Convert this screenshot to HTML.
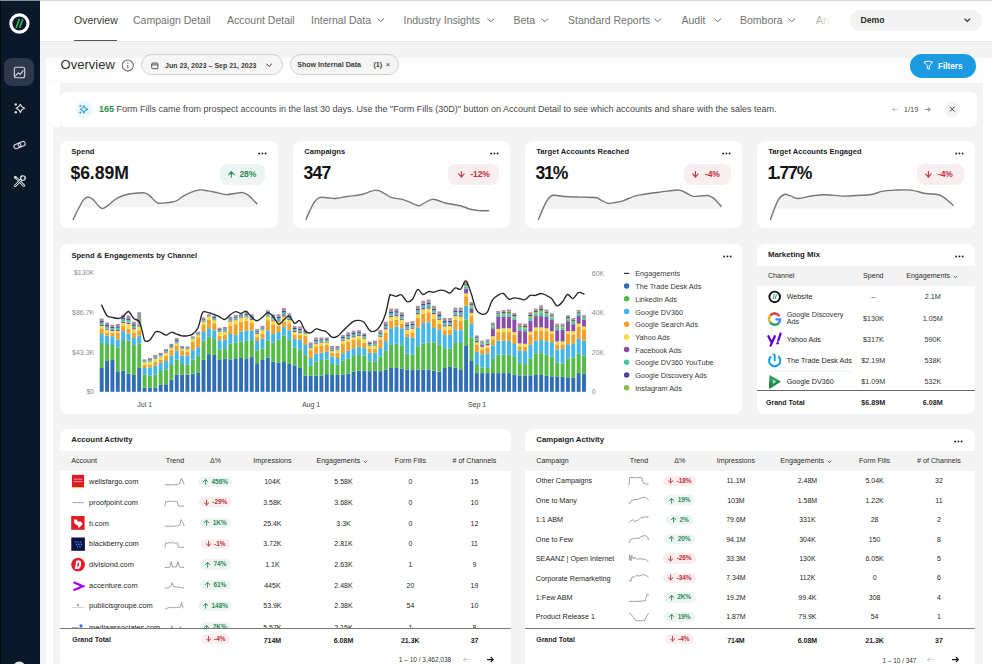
<!DOCTYPE html><html><head><meta charset="utf-8"><style>
*{box-sizing:border-box}
html,body{margin:0;padding:0}
body{width:992px;height:664px;overflow:hidden;position:relative;background:#f3f3f3;font-family:"Liberation Sans", sans-serif;}
.t{position:absolute;white-space:nowrap}
.r{position:absolute}
svg{position:absolute;overflow:visible}

</style></head><body>
<div class="r" style="left:40px;top:41px;width:952px;height:623px;background:#ffffff;border-radius:0px;"></div>
<div class="r" style="left:46px;top:41px;width:946px;height:17px;background:#f3f3f3;border-radius:0px;"></div>
<div class="r" style="left:53px;top:58px;width:930px;height:606px;background:#f3f3f3;border-radius:0px;"></div>
<div class="r" style="left:40px;top:41px;width:6px;height:623px;background:#eef4f7;border-radius:0px;"></div>
<div class="r" style="left:46px;top:58px;width:937px;height:25px;background:#fdfdfd;border-radius:0px;"></div>
<div class="r" style="left:46px;top:83px;width:14px;height:44px;background:#ffffff;border-radius:0px;"></div>
<div class="r" style="left:40px;top:0px;width:952px;height:41px;background:#ffffff;border-radius:0px;"></div>
<div class="r" style="left:0px;top:0px;width:992px;height:1px;background:#d6d6d6;border-radius:0px;"></div>
<div class="r" style="left:40px;top:40.5px;width:952px;height:0.5px;background:#e6e6e6;border-radius:0px;"></div>
<div class="r" style="left:0px;top:0px;width:40px;height:664px;background:#0a182a;border-radius:0px;"></div>
<div class="r" style="left:0px;top:0px;width:1px;height:664px;background:#03080e;border-radius:0px;"></div>
<div class="r" style="left:0px;top:0px;width:40px;height:1px;background:#8a9098;border-radius:0px;"></div>
<svg style="left:0;top:0" width="40" height="60" viewBox="0 0 40 60">
<circle cx="19.4" cy="23.5" r="8.6" fill="#0a182a" stroke="#ffffff" stroke-width="3.1"/>
<path d="M19.2 19.6 L16.4 27.2 M22.6 19.6 L19.8 27.2" stroke="#2fae5a" stroke-width="1.7" stroke-linecap="round"/>
</svg>
<div class="r" style="left:4px;top:58px;width:30px;height:28px;background:#2d394a;border-radius:8px;"></div>
<svg style="left:0;top:50" width="40" height="150" viewBox="0 50 40 150" fill="none" stroke="#d3d8de" stroke-width="1.1" stroke-linecap="round" stroke-linejoin="round">
<rect x="14.3" y="67.3" width="10.4" height="10.4" rx="2"/>
<path d="M15.6 75.6 L18.3 72.8 L20.2 74.4 L23.2 70.6"/>
<path d="M20.3 104.2 Q21.2 107.4 24.6 108.3 Q21.2 109.2 20.3 112.6 Q19.4 109.2 16 108.3 Q19.4 107.4 20.3 104.2 Z"/>
<circle cx="15.8" cy="104.6" r="1.25" fill="#d3d8de" stroke="none"/>
<circle cx="15.8" cy="112.2" r="1.25" fill="#d3d8de" stroke="none"/>
<g transform="rotate(-22 19.5 145)"><rect x="13.6" y="142.9" width="7.2" height="4.4" rx="2.2"/><rect x="18.2" y="142.9" width="7.2" height="4.4" rx="2.2"/></g>
<path d="M16.4 178.2 L23.9 185.7" stroke-width="2.6"/><path d="M16.4 178.2 L23.9 185.7" stroke="#0a182a" stroke-width="0.9"/><circle cx="15.4" cy="177.2" r="1.5" fill="#d3d8de" stroke="none"/><path d="M15.2 185.8 L21.6 179.4" stroke-width="2.6"/><path d="M15.2 185.8 L21.6 179.4" stroke="#0a182a" stroke-width="0.9"/><circle cx="22.9" cy="178.1" r="2.3" fill="#0a182a"/><path d="M21.2 179.8 A2.3 2.3 0 0 1 22.3 175.9 M24.6 176.4 A2.3 2.3 0 0 1 25.1 178.7"/>
</svg>
<svg style="left:0;top:650" width="40" height="14"><circle cx="19.3" cy="18" r="6.5" fill="#e8e8e8"/></svg>
<div class="t" style="top:14.68px;font-size:10.5px;line-height:10.5px;font-weight:400;color:#3a3a3a;left:74.00px;">Overview</div>
<div class="t" style="top:14.68px;font-size:10.5px;line-height:10.5px;font-weight:400;color:#727272;left:133.00px;">Campaign Detail</div>
<div class="t" style="top:14.68px;font-size:10.5px;line-height:10.5px;font-weight:400;color:#727272;left:227.00px;">Account Detail</div>
<div class="t" style="top:14.68px;font-size:10.5px;line-height:10.5px;font-weight:400;color:#727272;left:311.00px;">Internal Data</div>
<svg style="left:376.5px;top:17.6px" width="8" height="5" viewBox="0 0 8 5"><path d="M0.7 0.9 L3.75 3.7 L6.8 0.9" fill="none" stroke="#666" stroke-width="0.95" stroke-linecap="round" stroke-linejoin="round"/></svg>
<div class="t" style="top:14.68px;font-size:10.5px;line-height:10.5px;font-weight:400;color:#727272;left:403.50px;">Industry Insights</div>
<svg style="left:487.1px;top:17.6px" width="8" height="5" viewBox="0 0 8 5"><path d="M0.7 0.9 L3.75 3.7 L6.8 0.9" fill="none" stroke="#666" stroke-width="0.95" stroke-linecap="round" stroke-linejoin="round"/></svg>
<div class="t" style="top:14.68px;font-size:10.5px;line-height:10.5px;font-weight:400;color:#727272;left:513.50px;">Beta</div>
<svg style="left:541.3px;top:17.6px" width="8" height="5" viewBox="0 0 8 5"><path d="M0.7 0.9 L3.75 3.7 L6.8 0.9" fill="none" stroke="#666" stroke-width="0.95" stroke-linecap="round" stroke-linejoin="round"/></svg>
<div class="t" style="top:14.68px;font-size:10.5px;line-height:10.5px;font-weight:400;color:#727272;left:568.00px;">Standard Reports</div>
<svg style="left:654.4px;top:17.6px" width="8" height="5" viewBox="0 0 8 5"><path d="M0.7 0.9 L3.75 3.7 L6.8 0.9" fill="none" stroke="#666" stroke-width="0.95" stroke-linecap="round" stroke-linejoin="round"/></svg>
<div class="t" style="top:14.68px;font-size:10.5px;line-height:10.5px;font-weight:400;color:#727272;left:681.50px;">Audit</div>
<svg style="left:713.7px;top:17.6px" width="8" height="5" viewBox="0 0 8 5"><path d="M0.7 0.9 L3.75 3.7 L6.8 0.9" fill="none" stroke="#666" stroke-width="0.95" stroke-linecap="round" stroke-linejoin="round"/></svg>
<div class="t" style="top:14.68px;font-size:10.5px;line-height:10.5px;font-weight:400;color:#727272;left:740.00px;">Bombora</div>
<svg style="left:788.4px;top:17.6px" width="8" height="5" viewBox="0 0 8 5"><path d="M0.7 0.9 L3.75 3.7 L6.8 0.9" fill="none" stroke="#666" stroke-width="0.95" stroke-linecap="round" stroke-linejoin="round"/></svg>
<div class="t" style="top:14.68px;font-size:10.5px;line-height:10.5px;font-weight:400;color:#a8a8a8;left:816.00px;width:14px;overflow:hidden;">Arc</div>
<div class="r" style="left:818px;top:12px;width:14px;height:16px;background:linear-gradient(to right, rgba(255,255,255,0), rgba(255,255,255,0.95) 90%)"></div>
<div class="r" style="left:74px;top:39.5px;width:43px;height:1.5px;background:#555;border-radius:0px;"></div>
<div class="r" style="left:850px;top:10px;width:132px;height:20.5px;background:#f3f3f3;border-radius:10.25px;"></div>
<div class="t" style="top:15.86px;font-size:8.7px;line-height:8.7px;font-weight:700;color:#2a2a2a;left:860.40px;">Demo</div>
<svg style="left:963.5px;top:18px" width="7" height="5" viewBox="0 0 7 5"><path d="M0.8 1 L3.3 3.5 L5.8 1" fill="none" stroke="#333" stroke-width="1.1" stroke-linecap="round"/></svg>
<div class="t" style="top:57.55px;font-size:13px;line-height:13px;font-weight:400;color:#2e2e2e;left:60.60px;">Overview</div>
<svg style="left:121px;top:59px" width="14" height="14" viewBox="0 0 14 14"><circle cx="6.8" cy="6.5" r="5.6" fill="none" stroke="#666" stroke-width="1.05"/><path d="M6.8 6.1 L6.8 9.3" stroke="#666" stroke-width="1.1"/><circle cx="6.8" cy="4.1" r="0.7" fill="#666"/></svg>
<div class="r" style="left:141px;top:54px;width:142px;height:21px;background:#f5f5f5;border-radius:10.5px;border:1px solid #cfcfcf;"></div>
<svg style="left:150.6px;top:61.6px" width="8" height="8" viewBox="0 0 8 8"><rect x="0.7" y="1.1" width="6.2" height="5.6" rx="0.9" fill="none" stroke="#333" stroke-width="0.85"/><path d="M0.8 2.9 L6.8 2.9" stroke="#333" stroke-width="0.8"/></svg>
<div class="t" style="top:61.83px;font-size:7.0px;line-height:7.0px;font-weight:700;color:#3a3a3a;left:165.00px;">Jun 23, 2023 – Sep 21, 2023</div>
<svg style="left:265.5px;top:63px" width="7" height="5" viewBox="0 0 7 5"><path d="M0.8 1 L3.2 3.4 L5.6 1" fill="none" stroke="#333" stroke-width="1" stroke-linecap="round"/></svg>
<div class="r" style="left:289.7px;top:54px;width:109.5px;height:21px;background:#f5f5f5;border-radius:10.5px;border:1px solid #cfcfcf;"></div>
<div class="t" style="top:61.78px;font-size:7.1px;line-height:7.1px;font-weight:700;color:#3a3a3a;left:297.20px;">Show Internal Data</div>
<div class="t" style="top:61.78px;font-size:7.1px;line-height:7.1px;font-weight:700;color:#3a3a3a;left:373.40px;">(1)</div>
<div class="t" style="top:61.12px;font-size:8px;line-height:8px;font-weight:400;color:#333;left:385.60px;">×</div>
<div class="r" style="left:910px;top:54px;width:66px;height:23.5px;background:#1c9be3;border-radius:11.75px;"></div>
<svg style="left:923px;top:60px" width="11" height="11" viewBox="0 0 11 11"><path d="M1.1 2 Q5.3 0.3 9.5 2 Q8 4.4 6.2 5.8 L6.2 9.4 L4.4 8.5 L4.4 5.8 Q2.6 4.4 1.1 2 Z" fill="none" stroke="#fff" stroke-width="0.95" stroke-linejoin="round"/></svg>
<div class="t" style="top:62.72px;font-size:8.2px;line-height:8.2px;font-weight:700;color:#ffffff;left:938.00px;">Filters</div>
<div class="r" style="left:60px;top:92px;width:917px;height:34.5px;background:#ffffff;border-radius:6px;"></div>
<svg style="left:75px;top:100.5px" width="18" height="18" viewBox="0 0 18 18"><circle cx="9" cy="8.7" r="8.7" fill="#edf6fa"/><path d="M8.8 4.6 Q9.5 7.6 12.8 8.3 Q9.5 9 8.8 12 Q8.1 9 5.5 8.3 Q8.1 7.6 8.8 4.6 Z" fill="none" stroke="#35a2dc" stroke-width="1.25" stroke-linejoin="round"/><circle cx="5.3" cy="4.9" r="1" fill="#3a8fd8"/><circle cx="5.3" cy="11.5" r="1" fill="#3a8fd8"/></svg>
<div class="t" style="top:104.55px;font-size:9px;line-height:9px;font-weight:400;color:#474747;left:98.90px;"><b style="color:#2b8c4e">165</b> Form Fills came from prospect accounts in the last 30 days. Use the "Form Fills (30D)" button on Account Detail to see which accounts and share with the sales team.</div>
<svg style="left:892.00px;top:106.90px" width="5.60" height="4.80" viewBox="0 0 5.60 4.80"><path d="M5.100000000000023 2.4 L0.5 2.4 M2.4 0.5 L0.5 2.4 L2.4 4.3" fill="none" stroke="#b0b0b0" stroke-width="0.8" stroke-linecap="round" stroke-linejoin="round"/></svg>
<div class="t" style="top:105.92px;font-size:7.6px;line-height:7.6px;font-weight:400;color:#505050;left:903.70px;">1/19</div>
<svg style="left:925.10px;top:106.90px" width="5.70" height="4.80" viewBox="0 0 5.70 4.80"><path d="M0.5 2.4 L5.199999999999932 2.4 M3.299999999999932 0.5 L5.199999999999932 2.4 L3.299999999999932 4.3" fill="none" stroke="#666" stroke-width="0.8" stroke-linecap="round" stroke-linejoin="round"/></svg>
<svg style="left:944px;top:101px" width="17" height="17" viewBox="0 0 17 17"><circle cx="8.2" cy="8.3" r="8" fill="#f3f3f3"/><path d="M6.2 6.3 L10.2 10.3 M10.2 6.3 L6.2 10.3" stroke="#3a3a3a" stroke-width="0.95" stroke-linecap="round"/></svg>
<div class="r" style="left:60px;top:141px;width:218px;height:87px;background:#ffffff;border-radius:8px;"></div>
<div class="t" style="top:148.34px;font-size:7.6px;line-height:7.6px;font-weight:700;color:#1e1e1e;left:71.30px;">Spend</div>
<svg style="left:258.00px;top:152.00px" width="9" height="3" viewBox="0 0 9 3"><circle cx="1.2" cy="1.5" r="0.95" fill="#222"/><circle cx="4.4" cy="1.5" r="0.95" fill="#222"/><circle cx="7.6" cy="1.5" r="0.95" fill="#222"/></svg>
<div class="t" style="top:164.74px;font-size:17.6px;line-height:17.6px;font-weight:700;color:#141414;letter-spacing:-0.05px;left:70.40px;">$6.89M</div>
<div class="r" style="left:219.7px;top:163.5px;width:45.0px;height:21px;background:#eef4f3;border-radius:8px;"></div>
<svg style="left:228.10px;top:170.50px" width="6.80" height="6.80" viewBox="0 0 6.80 6.80"><path d="M3.40 6.30 L3.40 0.6 M0.60 3.86 L3.40 0.6 L6.20 3.86" fill="none" stroke="#2a8d55" stroke-width="1.05" stroke-linecap="round" stroke-linejoin="round"/></svg>
<div class="t" style="top:170.08px;font-size:8.5px;line-height:8.5px;font-weight:700;color:#2a8d55;letter-spacing:-0.15px;left:239.50px;">28%</div>
<svg style="left:0;top:0" width="992" height="664" viewBox="0 0 992 664"><defs><linearGradient id="g0" x1="0" y1="0" x2="0" y2="1"><stop offset="0" stop-color="#f1f1f1"/><stop offset="1" stop-color="#f4f4f4"/></linearGradient></defs><path d="M73.20,219.40 C74.17,217.47 77.35,210.97 79.00,207.80 C80.65,204.63 81.65,202.20 83.10,200.40 C84.55,198.60 86.05,197.15 87.70,197.00 C89.35,196.85 91.28,198.12 93.00,199.50 C94.72,200.88 96.47,203.78 98.00,205.30 C99.53,206.82 100.68,208.45 102.20,208.60 C103.72,208.75 105.32,207.43 107.10,206.20 C108.88,204.97 110.83,202.73 112.90,201.20 C114.97,199.67 117.02,198.17 119.50,197.00 C121.98,195.83 125.03,194.83 127.80,194.20 C130.57,193.57 133.33,193.42 136.10,193.20 C138.87,192.98 142.20,192.53 144.40,192.90 C146.60,193.27 147.37,193.88 149.30,195.40 C151.23,196.92 154.33,200.70 156.00,202.00 C157.67,203.30 157.65,203.07 159.30,203.20 C160.95,203.33 163.78,203.00 165.90,202.80 C168.02,202.60 170.15,202.38 172.00,202.00 C173.85,201.62 175.13,201.47 177.00,200.50 C178.87,199.53 180.78,197.60 183.20,196.20 C185.62,194.80 188.73,193.15 191.50,192.10 C194.27,191.05 197.03,190.10 199.80,189.90 C202.57,189.70 205.07,190.40 208.10,190.90 C211.13,191.40 214.97,192.28 218.00,192.90 C221.03,193.52 223.27,194.55 226.30,194.60 C229.33,194.65 233.45,193.53 236.20,193.20 C238.95,192.87 240.87,192.32 242.80,192.60 C244.73,192.88 246.13,193.75 247.80,194.90 C249.47,196.05 251.28,198.03 252.80,199.50 C254.32,200.97 256.22,203.00 256.90,203.70 L256.9,207.2 L73.2,207.2 Z" fill="url(#g0)" stroke="none"/><path d="M73.20,219.40 C74.17,217.47 77.35,210.97 79.00,207.80 C80.65,204.63 81.65,202.20 83.10,200.40 C84.55,198.60 86.05,197.15 87.70,197.00 C89.35,196.85 91.28,198.12 93.00,199.50 C94.72,200.88 96.47,203.78 98.00,205.30 C99.53,206.82 100.68,208.45 102.20,208.60 C103.72,208.75 105.32,207.43 107.10,206.20 C108.88,204.97 110.83,202.73 112.90,201.20 C114.97,199.67 117.02,198.17 119.50,197.00 C121.98,195.83 125.03,194.83 127.80,194.20 C130.57,193.57 133.33,193.42 136.10,193.20 C138.87,192.98 142.20,192.53 144.40,192.90 C146.60,193.27 147.37,193.88 149.30,195.40 C151.23,196.92 154.33,200.70 156.00,202.00 C157.67,203.30 157.65,203.07 159.30,203.20 C160.95,203.33 163.78,203.00 165.90,202.80 C168.02,202.60 170.15,202.38 172.00,202.00 C173.85,201.62 175.13,201.47 177.00,200.50 C178.87,199.53 180.78,197.60 183.20,196.20 C185.62,194.80 188.73,193.15 191.50,192.10 C194.27,191.05 197.03,190.10 199.80,189.90 C202.57,189.70 205.07,190.40 208.10,190.90 C211.13,191.40 214.97,192.28 218.00,192.90 C221.03,193.52 223.27,194.55 226.30,194.60 C229.33,194.65 233.45,193.53 236.20,193.20 C238.95,192.87 240.87,192.32 242.80,192.60 C244.73,192.88 246.13,193.75 247.80,194.90 C249.47,196.05 251.28,198.03 252.80,199.50 C254.32,200.97 256.22,203.00 256.90,203.70" fill="none" stroke="#767676" stroke-width="1.4" stroke-linecap="round" stroke-linejoin="round"/></svg>
<div class="r" style="left:293px;top:141px;width:217px;height:87px;background:#ffffff;border-radius:8px;"></div>
<div class="t" style="top:148.34px;font-size:7.6px;line-height:7.6px;font-weight:700;color:#1e1e1e;left:304.30px;">Campaigns</div>
<svg style="left:490.00px;top:152.00px" width="9" height="3" viewBox="0 0 9 3"><circle cx="1.2" cy="1.5" r="0.95" fill="#222"/><circle cx="4.4" cy="1.5" r="0.95" fill="#222"/><circle cx="7.6" cy="1.5" r="0.95" fill="#222"/></svg>
<div class="t" style="top:164.74px;font-size:17.6px;line-height:17.6px;font-weight:700;color:#141414;letter-spacing:-0.75px;left:303.40px;">347</div>
<div class="r" style="left:448.4px;top:163.5px;width:51.0px;height:21px;background:#f9eeef;border-radius:8px;"></div>
<svg style="left:457.80px;top:170.50px" width="6.80" height="6.80" viewBox="0 0 6.80 6.80"><path d="M3.40 0.5 L3.40 6.20 M0.60 2.94 L3.40 6.20 L6.20 2.94" fill="none" stroke="#c22f3e" stroke-width="1.05" stroke-linecap="round" stroke-linejoin="round"/></svg>
<div class="t" style="top:170.08px;font-size:8.5px;line-height:8.5px;font-weight:700;color:#c22f3e;letter-spacing:-0.15px;left:470.40px;">-12%</div>
<svg style="left:0;top:0" width="992" height="664" viewBox="0 0 992 664"><defs><linearGradient id="g1" x1="0" y1="0" x2="0" y2="1"><stop offset="0" stop-color="#f1f1f1"/><stop offset="1" stop-color="#f4f4f4"/></linearGradient></defs><path d="M306.10,219.30 C307.27,216.78 310.92,207.80 313.10,204.20 C315.28,200.60 316.83,198.78 319.20,197.70 C321.57,196.62 324.62,197.57 327.30,197.70 C329.98,197.83 331.95,198.70 335.30,198.50 C338.65,198.30 343.03,197.17 347.40,196.50 C351.77,195.83 356.80,195.57 361.50,194.50 C366.20,193.43 371.90,190.33 375.60,190.10 C379.30,189.87 381.00,191.83 383.70,193.10 C386.40,194.37 388.43,196.58 391.80,197.70 C395.17,198.82 399.53,198.48 403.90,199.80 C408.27,201.12 414.65,205.03 418.00,205.60 C421.35,206.17 421.48,204.27 424.00,203.20 C426.52,202.13 429.40,199.20 433.10,199.20 C436.80,199.20 441.67,202.10 446.20,203.20 C450.73,204.30 456.27,204.80 460.30,205.80 C464.33,206.80 467.37,208.40 470.40,209.20 C473.43,210.00 475.48,210.33 478.50,210.60 C481.52,210.87 486.83,210.77 488.50,210.80 L488.5,209.2 L306.1,209.2 Z" fill="url(#g1)" stroke="none"/><path d="M306.10,219.30 C307.27,216.78 310.92,207.80 313.10,204.20 C315.28,200.60 316.83,198.78 319.20,197.70 C321.57,196.62 324.62,197.57 327.30,197.70 C329.98,197.83 331.95,198.70 335.30,198.50 C338.65,198.30 343.03,197.17 347.40,196.50 C351.77,195.83 356.80,195.57 361.50,194.50 C366.20,193.43 371.90,190.33 375.60,190.10 C379.30,189.87 381.00,191.83 383.70,193.10 C386.40,194.37 388.43,196.58 391.80,197.70 C395.17,198.82 399.53,198.48 403.90,199.80 C408.27,201.12 414.65,205.03 418.00,205.60 C421.35,206.17 421.48,204.27 424.00,203.20 C426.52,202.13 429.40,199.20 433.10,199.20 C436.80,199.20 441.67,202.10 446.20,203.20 C450.73,204.30 456.27,204.80 460.30,205.80 C464.33,206.80 467.37,208.40 470.40,209.20 C473.43,210.00 475.48,210.33 478.50,210.60 C481.52,210.87 486.83,210.77 488.50,210.80" fill="none" stroke="#767676" stroke-width="1.4" stroke-linecap="round" stroke-linejoin="round"/></svg>
<div class="r" style="left:525px;top:141px;width:217px;height:87px;background:#ffffff;border-radius:8px;"></div>
<div class="t" style="top:148.34px;font-size:7.6px;line-height:7.6px;font-weight:700;color:#1e1e1e;left:536.30px;">Target Accounts Reached</div>
<svg style="left:722.00px;top:152.00px" width="9" height="3" viewBox="0 0 9 3"><circle cx="1.2" cy="1.5" r="0.95" fill="#222"/><circle cx="4.4" cy="1.5" r="0.95" fill="#222"/><circle cx="7.6" cy="1.5" r="0.95" fill="#222"/></svg>
<div class="t" style="top:164.74px;font-size:17.6px;line-height:17.6px;font-weight:700;color:#141414;letter-spacing:-1.1px;left:535.40px;">31%</div>
<div class="r" style="left:684px;top:163.5px;width:47px;height:21px;background:#f9eeef;border-radius:8px;"></div>
<svg style="left:692.20px;top:170.50px" width="6.80" height="6.80" viewBox="0 0 6.80 6.80"><path d="M3.40 0.5 L3.40 6.20 M0.60 2.94 L3.40 6.20 L6.20 2.94" fill="none" stroke="#c22f3e" stroke-width="1.05" stroke-linecap="round" stroke-linejoin="round"/></svg>
<div class="t" style="top:170.08px;font-size:8.5px;line-height:8.5px;font-weight:700;color:#c22f3e;letter-spacing:-0.15px;left:705.00px;">-4%</div>
<svg style="left:0;top:0" width="992" height="664" viewBox="0 0 992 664"><defs><linearGradient id="g2" x1="0" y1="0" x2="0" y2="1"><stop offset="0" stop-color="#f1f1f1"/><stop offset="1" stop-color="#f4f4f4"/></linearGradient></defs><path d="M538.50,219.30 C539.77,216.45 543.82,206.17 546.10,202.20 C548.38,198.23 549.17,196.45 552.20,195.50 C555.23,194.55 559.60,196.23 564.30,196.50 C569.00,196.77 575.20,196.93 580.40,197.10 C585.60,197.27 592.13,197.05 595.50,197.50 C598.87,197.95 598.58,198.85 600.60,199.80 C602.62,200.75 605.25,202.73 607.60,203.20 C609.95,203.67 612.18,203.00 614.70,202.60 C617.22,202.20 619.35,201.88 622.70,200.80 C626.05,199.72 631.43,197.15 634.80,196.10 C638.17,195.05 639.53,195.07 642.90,194.50 C646.27,193.93 650.97,193.27 655.00,192.70 C659.03,192.13 663.07,191.53 667.10,191.10 C671.13,190.67 676.18,189.87 679.20,190.10 C682.22,190.33 683.02,191.50 685.20,192.50 C687.38,193.50 689.93,195.50 692.30,196.10 C694.67,196.70 696.88,196.20 699.40,196.10 C701.92,196.00 705.05,195.17 707.40,195.50 C709.75,195.83 711.22,196.32 713.50,198.10 C715.78,199.88 719.83,204.85 721.10,206.20 L721.1,209.0 L538.5,209.0 Z" fill="url(#g2)" stroke="none"/><path d="M538.50,219.30 C539.77,216.45 543.82,206.17 546.10,202.20 C548.38,198.23 549.17,196.45 552.20,195.50 C555.23,194.55 559.60,196.23 564.30,196.50 C569.00,196.77 575.20,196.93 580.40,197.10 C585.60,197.27 592.13,197.05 595.50,197.50 C598.87,197.95 598.58,198.85 600.60,199.80 C602.62,200.75 605.25,202.73 607.60,203.20 C609.95,203.67 612.18,203.00 614.70,202.60 C617.22,202.20 619.35,201.88 622.70,200.80 C626.05,199.72 631.43,197.15 634.80,196.10 C638.17,195.05 639.53,195.07 642.90,194.50 C646.27,193.93 650.97,193.27 655.00,192.70 C659.03,192.13 663.07,191.53 667.10,191.10 C671.13,190.67 676.18,189.87 679.20,190.10 C682.22,190.33 683.02,191.50 685.20,192.50 C687.38,193.50 689.93,195.50 692.30,196.10 C694.67,196.70 696.88,196.20 699.40,196.10 C701.92,196.00 705.05,195.17 707.40,195.50 C709.75,195.83 711.22,196.32 713.50,198.10 C715.78,199.88 719.83,204.85 721.10,206.20" fill="none" stroke="#767676" stroke-width="1.4" stroke-linecap="round" stroke-linejoin="round"/></svg>
<div class="r" style="left:757px;top:141px;width:218px;height:87px;background:#ffffff;border-radius:8px;"></div>
<div class="t" style="top:148.34px;font-size:7.6px;line-height:7.6px;font-weight:700;color:#1e1e1e;left:768.30px;">Target Accounts Engaged</div>
<svg style="left:955.00px;top:152.00px" width="9" height="3" viewBox="0 0 9 3"><circle cx="1.2" cy="1.5" r="0.95" fill="#222"/><circle cx="4.4" cy="1.5" r="0.95" fill="#222"/><circle cx="7.6" cy="1.5" r="0.95" fill="#222"/></svg>
<div class="t" style="top:164.74px;font-size:17.6px;line-height:17.6px;font-weight:700;color:#141414;letter-spacing:-1.25px;left:767.40px;">1.77%</div>
<div class="r" style="left:917.1px;top:163.5px;width:46.69999999999993px;height:21px;background:#f9eeef;border-radius:8px;"></div>
<svg style="left:925.30px;top:170.50px" width="6.80" height="6.80" viewBox="0 0 6.80 6.80"><path d="M3.40 0.5 L3.40 6.20 M0.60 2.94 L3.40 6.20 L6.20 2.94" fill="none" stroke="#c22f3e" stroke-width="1.05" stroke-linecap="round" stroke-linejoin="round"/></svg>
<div class="t" style="top:170.08px;font-size:8.5px;line-height:8.5px;font-weight:700;color:#c22f3e;letter-spacing:-0.15px;left:938.10px;">-4%</div>
<svg style="left:0;top:0" width="992" height="664" viewBox="0 0 992 664"><defs><linearGradient id="g3" x1="0" y1="0" x2="0" y2="1"><stop offset="0" stop-color="#f1f1f1"/><stop offset="1" stop-color="#f4f4f4"/></linearGradient></defs><path d="M770.50,219.30 C771.77,216.12 775.82,204.33 778.10,200.20 C780.38,196.07 782.18,195.25 784.20,194.50 C786.22,193.75 787.85,195.03 790.20,195.70 C792.55,196.37 794.60,198.50 798.30,198.50 C802.00,198.50 807.70,196.33 812.40,195.70 C817.10,195.07 821.47,194.63 826.50,194.70 C831.53,194.77 837.55,195.97 842.60,196.10 C847.65,196.23 852.08,195.77 856.80,195.50 C861.52,195.23 866.53,195.23 870.90,194.50 C875.27,193.77 878.97,191.83 883.00,191.10 C887.03,190.37 890.40,190.27 895.10,190.10 C899.80,189.93 906.17,189.53 911.20,190.10 C916.23,190.67 920.93,192.77 925.30,193.50 C929.67,194.23 934.37,193.90 937.40,194.50 C940.43,195.10 940.88,195.32 943.50,197.10 C946.12,198.88 951.50,203.85 953.10,205.20 L953.1,208.4 L770.5,208.4 Z" fill="url(#g3)" stroke="none"/><path d="M770.50,219.30 C771.77,216.12 775.82,204.33 778.10,200.20 C780.38,196.07 782.18,195.25 784.20,194.50 C786.22,193.75 787.85,195.03 790.20,195.70 C792.55,196.37 794.60,198.50 798.30,198.50 C802.00,198.50 807.70,196.33 812.40,195.70 C817.10,195.07 821.47,194.63 826.50,194.70 C831.53,194.77 837.55,195.97 842.60,196.10 C847.65,196.23 852.08,195.77 856.80,195.50 C861.52,195.23 866.53,195.23 870.90,194.50 C875.27,193.77 878.97,191.83 883.00,191.10 C887.03,190.37 890.40,190.27 895.10,190.10 C899.80,189.93 906.17,189.53 911.20,190.10 C916.23,190.67 920.93,192.77 925.30,193.50 C929.67,194.23 934.37,193.90 937.40,194.50 C940.43,195.10 940.88,195.32 943.50,197.10 C946.12,198.88 951.50,203.85 953.10,205.20" fill="none" stroke="#767676" stroke-width="1.4" stroke-linecap="round" stroke-linejoin="round"/></svg>
<div class="r" style="left:60px;top:243.5px;width:682px;height:170px;background:#ffffff;border-radius:8px;"></div>
<div class="t" style="top:251.64px;font-size:7.6px;line-height:7.6px;font-weight:700;color:#1e1e1e;left:71.40px;">Spend &amp; Engagements by Channel</div>
<svg style="left:722.50px;top:254.80px" width="9" height="3" viewBox="0 0 9 3"><circle cx="1.2" cy="1.5" r="0.95" fill="#222"/><circle cx="4.4" cy="1.5" r="0.95" fill="#222"/><circle cx="7.6" cy="1.5" r="0.95" fill="#222"/></svg>
<div class="t" style="top:269.43px;font-size:7.0px;line-height:7.0px;font-weight:400;color:#8a8a8a;left:-305.80px;width:400px;text-align:right;">$130K</div>
<div class="t" style="top:309.23px;font-size:7.0px;line-height:7.0px;font-weight:400;color:#8a8a8a;left:-305.80px;width:400px;text-align:right;">$86.7K</div>
<div class="t" style="top:348.83px;font-size:7.0px;line-height:7.0px;font-weight:400;color:#8a8a8a;left:-305.80px;width:400px;text-align:right;">$43.3K</div>
<div class="t" style="top:388.23px;font-size:7.0px;line-height:7.0px;font-weight:400;color:#8a8a8a;left:-305.80px;width:400px;text-align:right;">$0</div>
<div class="t" style="top:269.83px;font-size:7.0px;line-height:7.0px;font-weight:400;color:#8a8a8a;left:591.80px;">60K</div>
<div class="t" style="top:309.43px;font-size:7.0px;line-height:7.0px;font-weight:400;color:#8a8a8a;left:591.80px;">40K</div>
<div class="t" style="top:349.23px;font-size:7.0px;line-height:7.0px;font-weight:400;color:#8a8a8a;left:591.80px;">20K</div>
<div class="t" style="top:388.33px;font-size:7.0px;line-height:7.0px;font-weight:400;color:#8a8a8a;left:591.80px;">0</div>
<div class="t" style="top:400.73px;font-size:7.0px;line-height:7.0px;font-weight:400;color:#444;left:-55.30px;width:400px;text-align:center;">Jul 1</div>
<div class="t" style="top:400.73px;font-size:7.0px;line-height:7.0px;font-weight:400;color:#444;left:111.10px;width:400px;text-align:center;">Aug 1</div>
<div class="t" style="top:400.73px;font-size:7.0px;line-height:7.0px;font-weight:400;color:#444;left:277.10px;width:400px;text-align:center;">Sep 1</div>
<svg style="left:0;top:0" width="992" height="664" viewBox="0 0 992 664" shape-rendering="auto"><rect x="99.75" y="368.00" width="3.9" height="23.80" fill="#2f6db5"/><rect x="99.75" y="342.90" width="3.9" height="25.10" fill="#55bb47"/><rect x="99.75" y="334.00" width="3.9" height="8.90" fill="#43b7ec"/><rect x="99.75" y="329.00" width="3.9" height="5.00" fill="#f4a12a"/><rect x="99.75" y="326.00" width="3.9" height="3.00" fill="#f8db3e"/><rect x="99.75" y="324.80" width="3.9" height="1.20" fill="#8c4cab"/><rect x="99.75" y="322.55" width="3.9" height="2.25" fill="#4fc2a6"/><rect x="99.75" y="321.05" width="3.9" height="1.50" fill="#4a449c"/><rect x="99.75" y="318.50" width="3.9" height="2.55" fill="#a88f9c"/><rect x="105.11" y="361.00" width="3.9" height="30.80" fill="#2f6db5"/><rect x="105.11" y="344.00" width="3.9" height="17.00" fill="#55bb47"/><rect x="105.11" y="335.80" width="3.9" height="8.20" fill="#43b7ec"/><rect x="105.11" y="332.50" width="3.9" height="3.30" fill="#f4a12a"/><rect x="105.11" y="329.70" width="3.9" height="2.80" fill="#f8db3e"/><rect x="105.11" y="328.55" width="3.9" height="1.15" fill="#8c4cab"/><rect x="105.11" y="326.39" width="3.9" height="2.16" fill="#4fc2a6"/><rect x="105.11" y="324.95" width="3.9" height="1.44" fill="#4a449c"/><rect x="105.11" y="322.50" width="3.9" height="2.45" fill="#a88f9c"/><rect x="110.47" y="360.00" width="3.9" height="31.80" fill="#2f6db5"/><rect x="110.47" y="345.00" width="3.9" height="15.00" fill="#55bb47"/><rect x="110.47" y="336.30" width="3.9" height="8.70" fill="#43b7ec"/><rect x="110.47" y="333.00" width="3.9" height="3.30" fill="#f4a12a"/><rect x="110.47" y="331.00" width="3.9" height="2.00" fill="#f8db3e"/><rect x="110.47" y="329.99" width="3.9" height="1.01" fill="#8c4cab"/><rect x="110.47" y="328.10" width="3.9" height="1.89" fill="#4fc2a6"/><rect x="110.47" y="326.84" width="3.9" height="1.26" fill="#4a449c"/><rect x="110.47" y="324.70" width="3.9" height="2.14" fill="#a88f9c"/><rect x="115.83" y="371.30" width="3.9" height="20.50" fill="#2f6db5"/><rect x="115.83" y="347.60" width="3.9" height="23.70" fill="#55bb47"/><rect x="115.83" y="339.40" width="3.9" height="8.20" fill="#43b7ec"/><rect x="115.83" y="332.90" width="3.9" height="6.50" fill="#f4a12a"/><rect x="115.83" y="331.00" width="3.9" height="1.90" fill="#f8db3e"/><rect x="115.83" y="329.88" width="3.9" height="1.12" fill="#8c4cab"/><rect x="115.83" y="327.78" width="3.9" height="2.10" fill="#4fc2a6"/><rect x="115.83" y="326.38" width="3.9" height="1.40" fill="#4a449c"/><rect x="115.83" y="324.00" width="3.9" height="2.38" fill="#a88f9c"/><rect x="121.19" y="370.60" width="3.9" height="21.20" fill="#2f6db5"/><rect x="121.19" y="340.00" width="3.9" height="30.60" fill="#55bb47"/><rect x="121.19" y="331.00" width="3.9" height="9.00" fill="#43b7ec"/><rect x="121.19" y="325.40" width="3.9" height="5.60" fill="#f4a12a"/><rect x="121.19" y="323.00" width="3.9" height="2.40" fill="#f8db3e"/><rect x="121.19" y="321.67" width="3.9" height="1.33" fill="#8c4cab"/><rect x="121.19" y="319.18" width="3.9" height="2.49" fill="#4fc2a6"/><rect x="121.19" y="317.52" width="3.9" height="1.66" fill="#4a449c"/><rect x="121.19" y="314.70" width="3.9" height="2.82" fill="#a88f9c"/><rect x="126.55" y="373.60" width="3.9" height="18.20" fill="#2f6db5"/><rect x="126.55" y="340.70" width="3.9" height="32.90" fill="#55bb47"/><rect x="126.55" y="333.70" width="3.9" height="7.00" fill="#43b7ec"/><rect x="126.55" y="328.50" width="3.9" height="5.20" fill="#f4a12a"/><rect x="126.55" y="324.00" width="3.9" height="4.50" fill="#f8db3e"/><rect x="126.55" y="322.64" width="3.9" height="1.36" fill="#8c4cab"/><rect x="126.55" y="320.09" width="3.9" height="2.55" fill="#4fc2a6"/><rect x="126.55" y="318.39" width="3.9" height="1.70" fill="#4a449c"/><rect x="126.55" y="315.50" width="3.9" height="2.89" fill="#a88f9c"/><rect x="131.90" y="375.00" width="3.9" height="16.80" fill="#2f6db5"/><rect x="131.90" y="345.00" width="3.9" height="30.00" fill="#55bb47"/><rect x="131.90" y="338.00" width="3.9" height="7.00" fill="#43b7ec"/><rect x="131.90" y="332.50" width="3.9" height="5.50" fill="#f4a12a"/><rect x="131.90" y="329.40" width="3.9" height="3.10" fill="#f8db3e"/><rect x="131.90" y="328.15" width="3.9" height="1.25" fill="#8c4cab"/><rect x="131.90" y="325.81" width="3.9" height="2.34" fill="#4fc2a6"/><rect x="131.90" y="324.25" width="3.9" height="1.56" fill="#4a449c"/><rect x="131.90" y="321.60" width="3.9" height="2.65" fill="#a88f9c"/><rect x="137.26" y="368.00" width="3.9" height="23.80" fill="#2f6db5"/><rect x="137.26" y="343.30" width="3.9" height="24.70" fill="#55bb47"/><rect x="137.26" y="335.50" width="3.9" height="7.80" fill="#43b7ec"/><rect x="137.26" y="330.30" width="3.9" height="5.20" fill="#f4a12a"/><rect x="137.26" y="326.80" width="3.9" height="3.50" fill="#f8db3e"/><rect x="137.26" y="326.24" width="3.9" height="0.56" fill="#8c4cab"/><rect x="137.26" y="325.19" width="3.9" height="1.05" fill="#4fc2a6"/><rect x="137.26" y="324.49" width="3.9" height="0.70" fill="#4a449c"/><rect x="137.26" y="323.30" width="3.9" height="1.19" fill="#a88f9c"/><rect x="142.62" y="387.80" width="3.9" height="4.00" fill="#2f6db5"/><rect x="142.62" y="374.50" width="3.9" height="13.30" fill="#55bb47"/><rect x="142.62" y="368.00" width="3.9" height="6.50" fill="#43b7ec"/><rect x="142.62" y="364.60" width="3.9" height="3.40" fill="#f4a12a"/><rect x="142.62" y="362.30" width="3.9" height="2.30" fill="#f8db3e"/><rect x="142.62" y="361.84" width="3.9" height="0.46" fill="#8c4cab"/><rect x="142.62" y="360.97" width="3.9" height="0.87" fill="#4fc2a6"/><rect x="142.62" y="360.39" width="3.9" height="0.58" fill="#4a449c"/><rect x="142.62" y="359.40" width="3.9" height="0.99" fill="#a88f9c"/><rect x="147.98" y="387.80" width="3.9" height="4.00" fill="#2f6db5"/><rect x="147.98" y="375.70" width="3.9" height="12.10" fill="#55bb47"/><rect x="147.98" y="367.50" width="3.9" height="8.20" fill="#43b7ec"/><rect x="147.98" y="364.60" width="3.9" height="2.90" fill="#f4a12a"/><rect x="147.98" y="361.50" width="3.9" height="3.10" fill="#f8db3e"/><rect x="147.98" y="360.94" width="3.9" height="0.56" fill="#8c4cab"/><rect x="147.98" y="359.89" width="3.9" height="1.05" fill="#4fc2a6"/><rect x="147.98" y="359.19" width="3.9" height="0.70" fill="#4a449c"/><rect x="147.98" y="358.00" width="3.9" height="1.19" fill="#a88f9c"/><rect x="153.34" y="387.50" width="3.9" height="4.30" fill="#2f6db5"/><rect x="153.34" y="374.50" width="3.9" height="13.00" fill="#55bb47"/><rect x="153.34" y="365.80" width="3.9" height="8.70" fill="#43b7ec"/><rect x="153.34" y="361.50" width="3.9" height="4.30" fill="#f4a12a"/><rect x="153.34" y="358.90" width="3.9" height="2.60" fill="#f8db3e"/><rect x="153.34" y="358.28" width="3.9" height="0.62" fill="#8c4cab"/><rect x="153.34" y="357.11" width="3.9" height="1.17" fill="#4fc2a6"/><rect x="153.34" y="356.33" width="3.9" height="0.78" fill="#4a449c"/><rect x="153.34" y="355.00" width="3.9" height="1.33" fill="#a88f9c"/><rect x="158.70" y="384.90" width="3.9" height="6.90" fill="#2f6db5"/><rect x="158.70" y="371.00" width="3.9" height="13.90" fill="#55bb47"/><rect x="158.70" y="362.80" width="3.9" height="8.20" fill="#43b7ec"/><rect x="158.70" y="359.40" width="3.9" height="3.40" fill="#f4a12a"/><rect x="158.70" y="356.30" width="3.9" height="3.10" fill="#f8db3e"/><rect x="158.70" y="355.74" width="3.9" height="0.56" fill="#8c4cab"/><rect x="158.70" y="354.69" width="3.9" height="1.05" fill="#4fc2a6"/><rect x="158.70" y="353.99" width="3.9" height="0.70" fill="#4a449c"/><rect x="158.70" y="352.80" width="3.9" height="1.19" fill="#a88f9c"/><rect x="164.06" y="384.30" width="3.9" height="7.50" fill="#2f6db5"/><rect x="164.06" y="369.30" width="3.9" height="15.00" fill="#55bb47"/><rect x="164.06" y="361.00" width="3.9" height="8.30" fill="#43b7ec"/><rect x="164.06" y="355.70" width="3.9" height="5.30" fill="#f4a12a"/><rect x="164.06" y="352.80" width="3.9" height="2.90" fill="#f8db3e"/><rect x="164.06" y="352.19" width="3.9" height="0.61" fill="#8c4cab"/><rect x="164.06" y="351.05" width="3.9" height="1.14" fill="#4fc2a6"/><rect x="164.06" y="350.29" width="3.9" height="0.76" fill="#4a449c"/><rect x="164.06" y="349.00" width="3.9" height="1.29" fill="#a88f9c"/><rect x="169.42" y="379.70" width="3.9" height="12.10" fill="#2f6db5"/><rect x="169.42" y="365.00" width="3.9" height="14.70" fill="#55bb47"/><rect x="169.42" y="355.70" width="3.9" height="9.30" fill="#43b7ec"/><rect x="169.42" y="350.20" width="3.9" height="5.50" fill="#f4a12a"/><rect x="169.42" y="347.60" width="3.9" height="2.60" fill="#f8db3e"/><rect x="169.42" y="346.99" width="3.9" height="0.61" fill="#8c4cab"/><rect x="169.42" y="345.85" width="3.9" height="1.14" fill="#4fc2a6"/><rect x="169.42" y="345.09" width="3.9" height="0.76" fill="#4a449c"/><rect x="169.42" y="343.80" width="3.9" height="1.29" fill="#a88f9c"/><rect x="174.78" y="374.50" width="3.9" height="17.30" fill="#2f6db5"/><rect x="174.78" y="359.40" width="3.9" height="15.10" fill="#55bb47"/><rect x="174.78" y="350.70" width="3.9" height="8.70" fill="#43b7ec"/><rect x="174.78" y="345.50" width="3.9" height="5.20" fill="#f4a12a"/><rect x="174.78" y="343.30" width="3.9" height="2.20" fill="#f8db3e"/><rect x="174.78" y="342.45" width="3.9" height="0.85" fill="#8c4cab"/><rect x="174.78" y="340.86" width="3.9" height="1.59" fill="#4fc2a6"/><rect x="174.78" y="339.80" width="3.9" height="1.06" fill="#4a449c"/><rect x="174.78" y="338.00" width="3.9" height="1.80" fill="#a88f9c"/><rect x="180.14" y="374.50" width="3.9" height="17.30" fill="#2f6db5"/><rect x="180.14" y="364.00" width="3.9" height="10.50" fill="#55bb47"/><rect x="180.14" y="355.70" width="3.9" height="8.30" fill="#43b7ec"/><rect x="180.14" y="351.00" width="3.9" height="4.70" fill="#f4a12a"/><rect x="180.14" y="349.00" width="3.9" height="2.00" fill="#f8db3e"/><rect x="180.14" y="348.50" width="3.9" height="0.50" fill="#8c4cab"/><rect x="180.14" y="347.57" width="3.9" height="0.93" fill="#4fc2a6"/><rect x="180.14" y="346.95" width="3.9" height="0.62" fill="#4a449c"/><rect x="180.14" y="345.90" width="3.9" height="1.05" fill="#a88f9c"/><rect x="185.49" y="374.50" width="3.9" height="17.30" fill="#2f6db5"/><rect x="185.49" y="364.60" width="3.9" height="9.90" fill="#55bb47"/><rect x="185.49" y="355.70" width="3.9" height="8.90" fill="#43b7ec"/><rect x="185.49" y="351.40" width="3.9" height="4.30" fill="#f4a12a"/><rect x="185.49" y="349.30" width="3.9" height="2.10" fill="#f8db3e"/><rect x="185.49" y="348.84" width="3.9" height="0.46" fill="#8c4cab"/><rect x="185.49" y="347.97" width="3.9" height="0.87" fill="#4fc2a6"/><rect x="185.49" y="347.39" width="3.9" height="0.58" fill="#4a449c"/><rect x="185.49" y="346.40" width="3.9" height="0.99" fill="#a88f9c"/><rect x="190.85" y="373.60" width="3.9" height="18.20" fill="#2f6db5"/><rect x="190.85" y="359.70" width="3.9" height="13.90" fill="#55bb47"/><rect x="190.85" y="350.20" width="3.9" height="9.50" fill="#43b7ec"/><rect x="190.85" y="341.50" width="3.9" height="8.70" fill="#f4a12a"/><rect x="190.85" y="338.90" width="3.9" height="2.60" fill="#f8db3e"/><rect x="190.85" y="338.48" width="3.9" height="0.42" fill="#8c4cab"/><rect x="190.85" y="337.70" width="3.9" height="0.78" fill="#4fc2a6"/><rect x="190.85" y="337.18" width="3.9" height="0.52" fill="#4a449c"/><rect x="190.85" y="336.30" width="3.9" height="0.88" fill="#a88f9c"/><rect x="196.21" y="372.70" width="3.9" height="19.10" fill="#2f6db5"/><rect x="196.21" y="355.90" width="3.9" height="16.80" fill="#55bb47"/><rect x="196.21" y="347.20" width="3.9" height="8.70" fill="#43b7ec"/><rect x="196.21" y="337.20" width="3.9" height="10.00" fill="#f4a12a"/><rect x="196.21" y="335.10" width="3.9" height="2.10" fill="#f8db3e"/><rect x="196.21" y="334.54" width="3.9" height="0.56" fill="#8c4cab"/><rect x="196.21" y="333.49" width="3.9" height="1.05" fill="#4fc2a6"/><rect x="196.21" y="332.79" width="3.9" height="0.70" fill="#4a449c"/><rect x="196.21" y="331.60" width="3.9" height="1.19" fill="#a88f9c"/><rect x="201.57" y="359.70" width="3.9" height="32.10" fill="#2f6db5"/><rect x="201.57" y="340.70" width="3.9" height="19.00" fill="#55bb47"/><rect x="201.57" y="332.00" width="3.9" height="8.70" fill="#43b7ec"/><rect x="201.57" y="325.00" width="3.9" height="7.00" fill="#f4a12a"/><rect x="201.57" y="321.60" width="3.9" height="3.40" fill="#f8db3e"/><rect x="201.57" y="320.91" width="3.9" height="0.69" fill="#8c4cab"/><rect x="201.57" y="319.62" width="3.9" height="1.29" fill="#4fc2a6"/><rect x="201.57" y="318.76" width="3.9" height="0.86" fill="#4a449c"/><rect x="201.57" y="317.30" width="3.9" height="1.46" fill="#a88f9c"/><rect x="206.93" y="354.20" width="3.9" height="37.60" fill="#2f6db5"/><rect x="206.93" y="336.80" width="3.9" height="17.40" fill="#55bb47"/><rect x="206.93" y="328.20" width="3.9" height="8.60" fill="#43b7ec"/><rect x="206.93" y="319.90" width="3.9" height="8.30" fill="#f4a12a"/><rect x="206.93" y="316.40" width="3.9" height="3.50" fill="#f8db3e"/><rect x="206.93" y="316.06" width="3.9" height="0.34" fill="#8c4cab"/><rect x="206.93" y="315.43" width="3.9" height="0.63" fill="#4fc2a6"/><rect x="206.93" y="315.01" width="3.9" height="0.42" fill="#4a449c"/><rect x="206.93" y="314.30" width="3.9" height="0.71" fill="#a88f9c"/><rect x="212.29" y="354.90" width="3.9" height="36.90" fill="#2f6db5"/><rect x="212.29" y="338.90" width="3.9" height="16.00" fill="#55bb47"/><rect x="212.29" y="330.30" width="3.9" height="8.60" fill="#43b7ec"/><rect x="212.29" y="323.30" width="3.9" height="7.00" fill="#f4a12a"/><rect x="212.29" y="320.20" width="3.9" height="3.10" fill="#f8db3e"/><rect x="212.29" y="319.45" width="3.9" height="0.75" fill="#8c4cab"/><rect x="212.29" y="318.04" width="3.9" height="1.41" fill="#4fc2a6"/><rect x="212.29" y="317.10" width="3.9" height="0.94" fill="#4a449c"/><rect x="212.29" y="315.50" width="3.9" height="1.60" fill="#a88f9c"/><rect x="217.65" y="360.00" width="3.9" height="31.80" fill="#2f6db5"/><rect x="217.65" y="349.30" width="3.9" height="10.70" fill="#55bb47"/><rect x="217.65" y="340.30" width="3.9" height="9.00" fill="#43b7ec"/><rect x="217.65" y="335.50" width="3.9" height="4.80" fill="#f4a12a"/><rect x="217.65" y="332.00" width="3.9" height="3.50" fill="#f8db3e"/><rect x="217.65" y="331.31" width="3.9" height="0.69" fill="#8c4cab"/><rect x="217.65" y="330.02" width="3.9" height="1.29" fill="#4fc2a6"/><rect x="217.65" y="329.16" width="3.9" height="0.86" fill="#4a449c"/><rect x="217.65" y="327.70" width="3.9" height="1.46" fill="#a88f9c"/><rect x="223.01" y="358.90" width="3.9" height="32.90" fill="#2f6db5"/><rect x="223.01" y="349.00" width="3.9" height="9.90" fill="#55bb47"/><rect x="223.01" y="339.40" width="3.9" height="9.60" fill="#43b7ec"/><rect x="223.01" y="335.10" width="3.9" height="4.30" fill="#f4a12a"/><rect x="223.01" y="331.60" width="3.9" height="3.50" fill="#f8db3e"/><rect x="223.01" y="330.83" width="3.9" height="0.77" fill="#8c4cab"/><rect x="223.01" y="329.39" width="3.9" height="1.44" fill="#4fc2a6"/><rect x="223.01" y="328.43" width="3.9" height="0.96" fill="#4a449c"/><rect x="223.01" y="326.80" width="3.9" height="1.63" fill="#a88f9c"/><rect x="228.37" y="359.40" width="3.9" height="32.40" fill="#2f6db5"/><rect x="228.37" y="343.80" width="3.9" height="15.60" fill="#55bb47"/><rect x="228.37" y="334.00" width="3.9" height="9.80" fill="#43b7ec"/><rect x="228.37" y="325.40" width="3.9" height="8.60" fill="#f4a12a"/><rect x="228.37" y="321.60" width="3.9" height="3.80" fill="#f8db3e"/><rect x="228.37" y="320.82" width="3.9" height="0.78" fill="#8c4cab"/><rect x="228.37" y="319.35" width="3.9" height="1.47" fill="#4fc2a6"/><rect x="228.37" y="318.37" width="3.9" height="0.98" fill="#4a449c"/><rect x="228.37" y="316.70" width="3.9" height="1.67" fill="#a88f9c"/><rect x="233.73" y="358.30" width="3.9" height="33.50" fill="#2f6db5"/><rect x="233.73" y="342.70" width="3.9" height="15.60" fill="#55bb47"/><rect x="233.73" y="335.10" width="3.9" height="7.60" fill="#43b7ec"/><rect x="233.73" y="324.20" width="3.9" height="10.90" fill="#f4a12a"/><rect x="233.73" y="320.20" width="3.9" height="4.00" fill="#f8db3e"/><rect x="233.73" y="319.32" width="3.9" height="0.88" fill="#8c4cab"/><rect x="233.73" y="317.67" width="3.9" height="1.65" fill="#4fc2a6"/><rect x="233.73" y="316.57" width="3.9" height="1.10" fill="#4a449c"/><rect x="233.73" y="314.70" width="3.9" height="1.87" fill="#a88f9c"/><rect x="239.08" y="358.00" width="3.9" height="33.80" fill="#2f6db5"/><rect x="239.08" y="341.50" width="3.9" height="16.50" fill="#55bb47"/><rect x="239.08" y="331.60" width="3.9" height="9.90" fill="#43b7ec"/><rect x="239.08" y="321.60" width="3.9" height="10.00" fill="#f4a12a"/><rect x="239.08" y="318.10" width="3.9" height="3.50" fill="#f8db3e"/><rect x="239.08" y="317.41" width="3.9" height="0.69" fill="#8c4cab"/><rect x="239.08" y="316.12" width="3.9" height="1.29" fill="#4fc2a6"/><rect x="239.08" y="315.26" width="3.9" height="0.86" fill="#4a449c"/><rect x="239.08" y="313.80" width="3.9" height="1.46" fill="#a88f9c"/><rect x="244.44" y="358.90" width="3.9" height="32.90" fill="#2f6db5"/><rect x="244.44" y="340.70" width="3.9" height="18.20" fill="#55bb47"/><rect x="244.44" y="330.30" width="3.9" height="10.40" fill="#43b7ec"/><rect x="244.44" y="320.70" width="3.9" height="9.60" fill="#f4a12a"/><rect x="244.44" y="317.30" width="3.9" height="3.40" fill="#f8db3e"/><rect x="244.44" y="316.45" width="3.9" height="0.85" fill="#8c4cab"/><rect x="244.44" y="314.86" width="3.9" height="1.59" fill="#4fc2a6"/><rect x="244.44" y="313.80" width="3.9" height="1.06" fill="#4a449c"/><rect x="244.44" y="312.00" width="3.9" height="1.80" fill="#a88f9c"/><rect x="249.80" y="357.10" width="3.9" height="34.70" fill="#2f6db5"/><rect x="249.80" y="340.10" width="3.9" height="17.00" fill="#55bb47"/><rect x="249.80" y="330.30" width="3.9" height="9.80" fill="#43b7ec"/><rect x="249.80" y="323.00" width="3.9" height="7.30" fill="#f4a12a"/><rect x="249.80" y="319.90" width="3.9" height="3.10" fill="#f8db3e"/><rect x="249.80" y="319.00" width="3.9" height="0.90" fill="#8c4cab"/><rect x="249.80" y="317.32" width="3.9" height="1.68" fill="#4fc2a6"/><rect x="249.80" y="316.20" width="3.9" height="1.12" fill="#4a449c"/><rect x="249.80" y="314.30" width="3.9" height="1.90" fill="#a88f9c"/><rect x="255.16" y="363.20" width="3.9" height="28.60" fill="#2f6db5"/><rect x="255.16" y="350.20" width="3.9" height="13.00" fill="#55bb47"/><rect x="255.16" y="341.00" width="3.9" height="9.20" fill="#43b7ec"/><rect x="255.16" y="337.20" width="3.9" height="3.80" fill="#f4a12a"/><rect x="255.16" y="334.00" width="3.9" height="3.20" fill="#f8db3e"/><rect x="255.16" y="333.18" width="3.9" height="0.82" fill="#8c4cab"/><rect x="255.16" y="331.65" width="3.9" height="1.53" fill="#4fc2a6"/><rect x="255.16" y="330.63" width="3.9" height="1.02" fill="#4a449c"/><rect x="255.16" y="328.90" width="3.9" height="1.73" fill="#a88f9c"/><rect x="260.52" y="360.00" width="3.9" height="31.80" fill="#2f6db5"/><rect x="260.52" y="348.50" width="3.9" height="11.50" fill="#55bb47"/><rect x="260.52" y="338.60" width="3.9" height="9.90" fill="#43b7ec"/><rect x="260.52" y="333.70" width="3.9" height="4.90" fill="#f4a12a"/><rect x="260.52" y="330.30" width="3.9" height="3.40" fill="#f8db3e"/><rect x="260.52" y="329.60" width="3.9" height="0.70" fill="#8c4cab"/><rect x="260.52" y="328.28" width="3.9" height="1.32" fill="#4fc2a6"/><rect x="260.52" y="327.40" width="3.9" height="0.88" fill="#4a449c"/><rect x="260.52" y="325.90" width="3.9" height="1.50" fill="#a88f9c"/><rect x="265.88" y="357.60" width="3.9" height="34.20" fill="#2f6db5"/><rect x="265.88" y="340.70" width="3.9" height="16.90" fill="#55bb47"/><rect x="265.88" y="330.60" width="3.9" height="10.10" fill="#43b7ec"/><rect x="265.88" y="320.20" width="3.9" height="10.40" fill="#f4a12a"/><rect x="265.88" y="316.40" width="3.9" height="3.80" fill="#f8db3e"/><rect x="265.88" y="315.42" width="3.9" height="0.98" fill="#8c4cab"/><rect x="265.88" y="313.59" width="3.9" height="1.83" fill="#4fc2a6"/><rect x="265.88" y="312.37" width="3.9" height="1.22" fill="#4a449c"/><rect x="265.88" y="310.30" width="3.9" height="2.07" fill="#a88f9c"/><rect x="271.24" y="361.80" width="3.9" height="30.00" fill="#2f6db5"/><rect x="271.24" y="342.40" width="3.9" height="19.40" fill="#55bb47"/><rect x="271.24" y="334.00" width="3.9" height="8.40" fill="#43b7ec"/><rect x="271.24" y="324.20" width="3.9" height="9.80" fill="#f4a12a"/><rect x="271.24" y="320.70" width="3.9" height="3.50" fill="#f8db3e"/><rect x="271.24" y="319.68" width="3.9" height="1.02" fill="#8c4cab"/><rect x="271.24" y="317.76" width="3.9" height="1.92" fill="#4fc2a6"/><rect x="271.24" y="316.48" width="3.9" height="1.28" fill="#4a449c"/><rect x="271.24" y="314.30" width="3.9" height="2.18" fill="#a88f9c"/><rect x="276.60" y="362.80" width="3.9" height="29.00" fill="#2f6db5"/><rect x="276.60" y="339.80" width="3.9" height="23.00" fill="#55bb47"/><rect x="276.60" y="332.00" width="3.9" height="7.80" fill="#43b7ec"/><rect x="276.60" y="325.40" width="3.9" height="6.60" fill="#f4a12a"/><rect x="276.60" y="321.60" width="3.9" height="3.80" fill="#f8db3e"/><rect x="276.60" y="320.43" width="3.9" height="1.17" fill="#8c4cab"/><rect x="276.60" y="318.24" width="3.9" height="2.19" fill="#4fc2a6"/><rect x="276.60" y="316.78" width="3.9" height="1.46" fill="#4a449c"/><rect x="276.60" y="314.30" width="3.9" height="2.48" fill="#a88f9c"/><rect x="281.96" y="362.00" width="3.9" height="29.80" fill="#2f6db5"/><rect x="281.96" y="335.50" width="3.9" height="26.50" fill="#55bb47"/><rect x="281.96" y="326.80" width="3.9" height="8.70" fill="#43b7ec"/><rect x="281.96" y="321.60" width="3.9" height="5.20" fill="#f4a12a"/><rect x="281.96" y="316.40" width="3.9" height="5.20" fill="#f8db3e"/><rect x="281.96" y="315.06" width="3.9" height="1.34" fill="#8c4cab"/><rect x="281.96" y="312.54" width="3.9" height="2.52" fill="#4fc2a6"/><rect x="281.96" y="310.86" width="3.9" height="1.68" fill="#4a449c"/><rect x="281.96" y="308.00" width="3.9" height="2.86" fill="#a88f9c"/><rect x="287.31" y="364.00" width="3.9" height="27.80" fill="#2f6db5"/><rect x="287.31" y="339.30" width="3.9" height="24.70" fill="#55bb47"/><rect x="287.31" y="330.30" width="3.9" height="9.00" fill="#43b7ec"/><rect x="287.31" y="323.30" width="3.9" height="7.00" fill="#f4a12a"/><rect x="287.31" y="320.20" width="3.9" height="3.10" fill="#f8db3e"/><rect x="287.31" y="319.10" width="3.9" height="1.10" fill="#8c4cab"/><rect x="287.31" y="317.03" width="3.9" height="2.07" fill="#4fc2a6"/><rect x="287.31" y="315.65" width="3.9" height="1.38" fill="#4a449c"/><rect x="287.31" y="313.30" width="3.9" height="2.35" fill="#a88f9c"/><rect x="292.67" y="365.30" width="3.9" height="26.50" fill="#2f6db5"/><rect x="292.67" y="347.60" width="3.9" height="17.70" fill="#55bb47"/><rect x="292.67" y="338.90" width="3.9" height="8.70" fill="#43b7ec"/><rect x="292.67" y="334.60" width="3.9" height="4.30" fill="#f4a12a"/><rect x="292.67" y="332.00" width="3.9" height="2.60" fill="#f8db3e"/><rect x="292.67" y="331.02" width="3.9" height="0.98" fill="#8c4cab"/><rect x="292.67" y="329.19" width="3.9" height="1.83" fill="#4fc2a6"/><rect x="292.67" y="327.97" width="3.9" height="1.22" fill="#4a449c"/><rect x="292.67" y="325.90" width="3.9" height="2.07" fill="#a88f9c"/><rect x="298.03" y="368.00" width="3.9" height="23.80" fill="#2f6db5"/><rect x="298.03" y="349.70" width="3.9" height="18.30" fill="#55bb47"/><rect x="298.03" y="339.80" width="3.9" height="9.90" fill="#43b7ec"/><rect x="298.03" y="335.10" width="3.9" height="4.70" fill="#f4a12a"/><rect x="298.03" y="332.90" width="3.9" height="2.20" fill="#f8db3e"/><rect x="298.03" y="331.86" width="3.9" height="1.04" fill="#8c4cab"/><rect x="298.03" y="329.91" width="3.9" height="1.95" fill="#4fc2a6"/><rect x="298.03" y="328.61" width="3.9" height="1.30" fill="#4a449c"/><rect x="298.03" y="326.40" width="3.9" height="2.21" fill="#a88f9c"/><rect x="303.39" y="375.70" width="3.9" height="16.10" fill="#2f6db5"/><rect x="303.39" y="354.90" width="3.9" height="20.80" fill="#55bb47"/><rect x="303.39" y="345.00" width="3.9" height="9.90" fill="#43b7ec"/><rect x="303.39" y="335.80" width="3.9" height="9.20" fill="#f4a12a"/><rect x="303.39" y="333.70" width="3.9" height="2.10" fill="#f8db3e"/><rect x="303.39" y="333.09" width="3.9" height="0.61" fill="#8c4cab"/><rect x="303.39" y="331.95" width="3.9" height="1.14" fill="#4fc2a6"/><rect x="303.39" y="331.19" width="3.9" height="0.76" fill="#4a449c"/><rect x="303.39" y="329.90" width="3.9" height="1.29" fill="#a88f9c"/><rect x="308.75" y="375.70" width="3.9" height="16.10" fill="#2f6db5"/><rect x="308.75" y="365.80" width="3.9" height="9.90" fill="#55bb47"/><rect x="308.75" y="358.00" width="3.9" height="7.80" fill="#43b7ec"/><rect x="308.75" y="350.20" width="3.9" height="7.80" fill="#f4a12a"/><rect x="308.75" y="348.10" width="3.9" height="2.10" fill="#f8db3e"/><rect x="308.75" y="347.19" width="3.9" height="0.91" fill="#8c4cab"/><rect x="308.75" y="345.48" width="3.9" height="1.71" fill="#4fc2a6"/><rect x="308.75" y="344.34" width="3.9" height="1.14" fill="#4a449c"/><rect x="308.75" y="342.40" width="3.9" height="1.94" fill="#a88f9c"/><rect x="314.11" y="375.70" width="3.9" height="16.10" fill="#2f6db5"/><rect x="314.11" y="361.50" width="3.9" height="14.20" fill="#55bb47"/><rect x="314.11" y="353.70" width="3.9" height="7.80" fill="#43b7ec"/><rect x="314.11" y="346.70" width="3.9" height="7.00" fill="#f4a12a"/><rect x="314.11" y="343.80" width="3.9" height="2.90" fill="#f8db3e"/><rect x="314.11" y="342.79" width="3.9" height="1.01" fill="#8c4cab"/><rect x="314.11" y="340.90" width="3.9" height="1.89" fill="#4fc2a6"/><rect x="314.11" y="339.64" width="3.9" height="1.26" fill="#4a449c"/><rect x="314.11" y="337.50" width="3.9" height="2.14" fill="#a88f9c"/><rect x="319.47" y="375.70" width="3.9" height="16.10" fill="#2f6db5"/><rect x="319.47" y="360.00" width="3.9" height="15.70" fill="#55bb47"/><rect x="319.47" y="352.80" width="3.9" height="7.20" fill="#43b7ec"/><rect x="319.47" y="345.50" width="3.9" height="7.30" fill="#f4a12a"/><rect x="319.47" y="342.70" width="3.9" height="2.80" fill="#f8db3e"/><rect x="319.47" y="341.87" width="3.9" height="0.83" fill="#8c4cab"/><rect x="319.47" y="340.31" width="3.9" height="1.56" fill="#4fc2a6"/><rect x="319.47" y="339.27" width="3.9" height="1.04" fill="#4a449c"/><rect x="319.47" y="337.50" width="3.9" height="1.77" fill="#a88f9c"/><rect x="324.83" y="374.10" width="3.9" height="17.70" fill="#2f6db5"/><rect x="324.83" y="359.40" width="3.9" height="14.70" fill="#55bb47"/><rect x="324.83" y="351.40" width="3.9" height="8.00" fill="#43b7ec"/><rect x="324.83" y="345.00" width="3.9" height="6.40" fill="#f4a12a"/><rect x="324.83" y="342.40" width="3.9" height="2.60" fill="#f8db3e"/><rect x="324.83" y="341.62" width="3.9" height="0.78" fill="#8c4cab"/><rect x="324.83" y="340.15" width="3.9" height="1.47" fill="#4fc2a6"/><rect x="324.83" y="339.17" width="3.9" height="0.98" fill="#4a449c"/><rect x="324.83" y="337.50" width="3.9" height="1.67" fill="#a88f9c"/><rect x="330.19" y="375.00" width="3.9" height="16.80" fill="#2f6db5"/><rect x="330.19" y="364.00" width="3.9" height="11.00" fill="#55bb47"/><rect x="330.19" y="356.60" width="3.9" height="7.40" fill="#43b7ec"/><rect x="330.19" y="352.80" width="3.9" height="3.80" fill="#f4a12a"/><rect x="330.19" y="350.70" width="3.9" height="2.10" fill="#f8db3e"/><rect x="330.19" y="349.93" width="3.9" height="0.77" fill="#8c4cab"/><rect x="330.19" y="348.49" width="3.9" height="1.44" fill="#4fc2a6"/><rect x="330.19" y="347.53" width="3.9" height="0.96" fill="#4a449c"/><rect x="330.19" y="345.90" width="3.9" height="1.63" fill="#a88f9c"/><rect x="335.55" y="375.00" width="3.9" height="16.80" fill="#2f6db5"/><rect x="335.55" y="364.90" width="3.9" height="10.10" fill="#55bb47"/><rect x="335.55" y="358.00" width="3.9" height="6.90" fill="#43b7ec"/><rect x="335.55" y="352.80" width="3.9" height="5.20" fill="#f4a12a"/><rect x="335.55" y="350.20" width="3.9" height="2.60" fill="#f8db3e"/><rect x="335.55" y="349.51" width="3.9" height="0.69" fill="#8c4cab"/><rect x="335.55" y="348.22" width="3.9" height="1.29" fill="#4fc2a6"/><rect x="335.55" y="347.36" width="3.9" height="0.86" fill="#4a449c"/><rect x="335.55" y="345.90" width="3.9" height="1.46" fill="#a88f9c"/><rect x="340.91" y="374.50" width="3.9" height="17.30" fill="#2f6db5"/><rect x="340.91" y="360.60" width="3.9" height="13.90" fill="#55bb47"/><rect x="340.91" y="353.10" width="3.9" height="7.50" fill="#43b7ec"/><rect x="340.91" y="344.10" width="3.9" height="9.00" fill="#f4a12a"/><rect x="340.91" y="340.70" width="3.9" height="3.40" fill="#f8db3e"/><rect x="340.91" y="339.80" width="3.9" height="0.90" fill="#8c4cab"/><rect x="340.91" y="338.12" width="3.9" height="1.68" fill="#4fc2a6"/><rect x="340.91" y="337.00" width="3.9" height="1.12" fill="#4a449c"/><rect x="340.91" y="335.10" width="3.9" height="1.90" fill="#a88f9c"/><rect x="346.26" y="373.60" width="3.9" height="18.20" fill="#2f6db5"/><rect x="346.26" y="358.30" width="3.9" height="15.30" fill="#55bb47"/><rect x="346.26" y="350.70" width="3.9" height="7.60" fill="#43b7ec"/><rect x="346.26" y="342.00" width="3.9" height="8.70" fill="#f4a12a"/><rect x="346.26" y="338.90" width="3.9" height="3.10" fill="#f8db3e"/><rect x="346.26" y="337.84" width="3.9" height="1.06" fill="#8c4cab"/><rect x="346.26" y="335.86" width="3.9" height="1.98" fill="#4fc2a6"/><rect x="346.26" y="334.54" width="3.9" height="1.32" fill="#4a449c"/><rect x="346.26" y="332.30" width="3.9" height="2.24" fill="#a88f9c"/><rect x="351.62" y="371.50" width="3.9" height="20.30" fill="#2f6db5"/><rect x="351.62" y="355.90" width="3.9" height="15.60" fill="#55bb47"/><rect x="351.62" y="348.50" width="3.9" height="7.40" fill="#43b7ec"/><rect x="351.62" y="339.80" width="3.9" height="8.70" fill="#f4a12a"/><rect x="351.62" y="337.20" width="3.9" height="2.60" fill="#f8db3e"/><rect x="351.62" y="336.14" width="3.9" height="1.06" fill="#8c4cab"/><rect x="351.62" y="334.16" width="3.9" height="1.98" fill="#4fc2a6"/><rect x="351.62" y="332.84" width="3.9" height="1.32" fill="#4a449c"/><rect x="351.62" y="330.60" width="3.9" height="2.24" fill="#a88f9c"/><rect x="356.98" y="370.70" width="3.9" height="21.10" fill="#2f6db5"/><rect x="356.98" y="355.00" width="3.9" height="15.70" fill="#55bb47"/><rect x="356.98" y="346.80" width="3.9" height="8.20" fill="#43b7ec"/><rect x="356.98" y="339.30" width="3.9" height="7.50" fill="#f4a12a"/><rect x="356.98" y="335.90" width="3.9" height="3.40" fill="#f8db3e"/><rect x="356.98" y="334.99" width="3.9" height="0.91" fill="#8c4cab"/><rect x="356.98" y="333.28" width="3.9" height="1.71" fill="#4fc2a6"/><rect x="356.98" y="332.14" width="3.9" height="1.14" fill="#4a449c"/><rect x="356.98" y="330.20" width="3.9" height="1.94" fill="#a88f9c"/><rect x="362.34" y="370.70" width="3.9" height="21.10" fill="#2f6db5"/><rect x="362.34" y="355.60" width="3.9" height="15.10" fill="#55bb47"/><rect x="362.34" y="348.10" width="3.9" height="7.50" fill="#43b7ec"/><rect x="362.34" y="342.40" width="3.9" height="5.70" fill="#f4a12a"/><rect x="362.34" y="338.70" width="3.9" height="3.70" fill="#f8db3e"/><rect x="362.34" y="337.82" width="3.9" height="0.88" fill="#8c4cab"/><rect x="362.34" y="336.17" width="3.9" height="1.65" fill="#4fc2a6"/><rect x="362.34" y="335.07" width="3.9" height="1.10" fill="#4a449c"/><rect x="362.34" y="333.20" width="3.9" height="1.87" fill="#a88f9c"/><rect x="367.70" y="371.20" width="3.9" height="20.60" fill="#2f6db5"/><rect x="367.70" y="361.30" width="3.9" height="9.90" fill="#55bb47"/><rect x="367.70" y="352.80" width="3.9" height="8.50" fill="#43b7ec"/><rect x="367.70" y="349.00" width="3.9" height="3.80" fill="#f4a12a"/><rect x="367.70" y="346.20" width="3.9" height="2.80" fill="#f8db3e"/><rect x="367.70" y="345.45" width="3.9" height="0.75" fill="#8c4cab"/><rect x="367.70" y="344.04" width="3.9" height="1.41" fill="#4fc2a6"/><rect x="367.70" y="343.10" width="3.9" height="0.94" fill="#4a449c"/><rect x="367.70" y="341.50" width="3.9" height="1.60" fill="#a88f9c"/><rect x="373.06" y="370.70" width="3.9" height="21.10" fill="#2f6db5"/><rect x="373.06" y="361.30" width="3.9" height="9.40" fill="#55bb47"/><rect x="373.06" y="352.80" width="3.9" height="8.50" fill="#43b7ec"/><rect x="373.06" y="348.70" width="3.9" height="4.10" fill="#f4a12a"/><rect x="373.06" y="345.60" width="3.9" height="3.10" fill="#f8db3e"/><rect x="373.06" y="344.80" width="3.9" height="0.80" fill="#8c4cab"/><rect x="373.06" y="343.30" width="3.9" height="1.50" fill="#4fc2a6"/><rect x="373.06" y="342.30" width="3.9" height="1.00" fill="#4a449c"/><rect x="373.06" y="340.60" width="3.9" height="1.70" fill="#a88f9c"/><rect x="378.42" y="371.20" width="3.9" height="20.60" fill="#2f6db5"/><rect x="378.42" y="356.60" width="3.9" height="14.60" fill="#55bb47"/><rect x="378.42" y="348.10" width="3.9" height="8.50" fill="#43b7ec"/><rect x="378.42" y="339.60" width="3.9" height="8.50" fill="#f4a12a"/><rect x="378.42" y="336.80" width="3.9" height="2.80" fill="#f8db3e"/><rect x="378.42" y="335.74" width="3.9" height="1.06" fill="#8c4cab"/><rect x="378.42" y="333.76" width="3.9" height="1.98" fill="#4fc2a6"/><rect x="378.42" y="332.44" width="3.9" height="1.32" fill="#4a449c"/><rect x="378.42" y="330.20" width="3.9" height="2.24" fill="#a88f9c"/><rect x="383.78" y="369.70" width="3.9" height="22.10" fill="#2f6db5"/><rect x="383.78" y="350.50" width="3.9" height="19.20" fill="#55bb47"/><rect x="383.78" y="341.10" width="3.9" height="9.40" fill="#43b7ec"/><rect x="383.78" y="332.50" width="3.9" height="8.60" fill="#f4a12a"/><rect x="383.78" y="329.30" width="3.9" height="3.20" fill="#f8db3e"/><rect x="383.78" y="328.08" width="3.9" height="1.22" fill="#8c4cab"/><rect x="383.78" y="325.80" width="3.9" height="2.28" fill="#4fc2a6"/><rect x="383.78" y="324.28" width="3.9" height="1.52" fill="#4a449c"/><rect x="383.78" y="321.70" width="3.9" height="2.58" fill="#a88f9c"/><rect x="389.14" y="367.90" width="3.9" height="23.90" fill="#2f6db5"/><rect x="389.14" y="344.90" width="3.9" height="23.00" fill="#55bb47"/><rect x="389.14" y="328.30" width="3.9" height="16.60" fill="#43b7ec"/><rect x="389.14" y="320.80" width="3.9" height="7.50" fill="#f4a12a"/><rect x="389.14" y="317.00" width="3.9" height="3.80" fill="#f8db3e"/><rect x="389.14" y="315.66" width="3.9" height="1.34" fill="#8c4cab"/><rect x="389.14" y="313.14" width="3.9" height="2.52" fill="#4fc2a6"/><rect x="389.14" y="311.46" width="3.9" height="1.68" fill="#4a449c"/><rect x="389.14" y="308.60" width="3.9" height="2.86" fill="#a88f9c"/><rect x="394.50" y="367.90" width="3.9" height="23.90" fill="#2f6db5"/><rect x="394.50" y="343.80" width="3.9" height="24.10" fill="#55bb47"/><rect x="394.50" y="326.50" width="3.9" height="17.30" fill="#43b7ec"/><rect x="394.50" y="319.90" width="3.9" height="6.60" fill="#f4a12a"/><rect x="394.50" y="316.10" width="3.9" height="3.80" fill="#f8db3e"/><rect x="394.50" y="314.90" width="3.9" height="1.20" fill="#8c4cab"/><rect x="394.50" y="312.65" width="3.9" height="2.25" fill="#4fc2a6"/><rect x="394.50" y="311.15" width="3.9" height="1.50" fill="#4a449c"/><rect x="394.50" y="308.60" width="3.9" height="2.55" fill="#a88f9c"/><rect x="399.85" y="368.80" width="3.9" height="23.00" fill="#2f6db5"/><rect x="399.85" y="345.30" width="3.9" height="23.50" fill="#55bb47"/><rect x="399.85" y="328.30" width="3.9" height="17.00" fill="#43b7ec"/><rect x="399.85" y="323.60" width="3.9" height="4.70" fill="#f4a12a"/><rect x="399.85" y="319.90" width="3.9" height="3.70" fill="#f8db3e"/><rect x="399.85" y="318.68" width="3.9" height="1.22" fill="#8c4cab"/><rect x="399.85" y="316.40" width="3.9" height="2.28" fill="#4fc2a6"/><rect x="399.85" y="314.88" width="3.9" height="1.52" fill="#4a449c"/><rect x="399.85" y="312.30" width="3.9" height="2.58" fill="#a88f9c"/><rect x="405.21" y="369.70" width="3.9" height="22.10" fill="#2f6db5"/><rect x="405.21" y="353.70" width="3.9" height="16.00" fill="#55bb47"/><rect x="405.21" y="336.80" width="3.9" height="16.90" fill="#43b7ec"/><rect x="405.21" y="334.00" width="3.9" height="2.80" fill="#f4a12a"/><rect x="405.21" y="329.80" width="3.9" height="4.20" fill="#f8db3e"/><rect x="405.21" y="328.60" width="3.9" height="1.20" fill="#8c4cab"/><rect x="405.21" y="326.35" width="3.9" height="2.25" fill="#4fc2a6"/><rect x="405.21" y="324.85" width="3.9" height="1.50" fill="#4a449c"/><rect x="405.21" y="322.30" width="3.9" height="2.55" fill="#a88f9c"/><rect x="410.57" y="370.10" width="3.9" height="21.70" fill="#2f6db5"/><rect x="410.57" y="354.70" width="3.9" height="15.40" fill="#55bb47"/><rect x="410.57" y="337.70" width="3.9" height="17.00" fill="#43b7ec"/><rect x="410.57" y="332.50" width="3.9" height="5.20" fill="#f4a12a"/><rect x="410.57" y="328.70" width="3.9" height="3.80" fill="#f8db3e"/><rect x="410.57" y="327.50" width="3.9" height="1.20" fill="#8c4cab"/><rect x="410.57" y="325.25" width="3.9" height="2.25" fill="#4fc2a6"/><rect x="410.57" y="323.75" width="3.9" height="1.50" fill="#4a449c"/><rect x="410.57" y="321.20" width="3.9" height="2.55" fill="#a88f9c"/><rect x="415.93" y="369.70" width="3.9" height="22.10" fill="#2f6db5"/><rect x="415.93" y="346.20" width="3.9" height="23.50" fill="#55bb47"/><rect x="415.93" y="327.40" width="3.9" height="18.80" fill="#43b7ec"/><rect x="415.93" y="317.40" width="3.9" height="10.00" fill="#f4a12a"/><rect x="415.93" y="314.20" width="3.9" height="3.20" fill="#f8db3e"/><rect x="415.93" y="312.86" width="3.9" height="1.34" fill="#8c4cab"/><rect x="415.93" y="310.34" width="3.9" height="2.52" fill="#4fc2a6"/><rect x="415.93" y="308.66" width="3.9" height="1.68" fill="#4a449c"/><rect x="415.93" y="305.80" width="3.9" height="2.86" fill="#a88f9c"/><rect x="421.29" y="369.70" width="3.9" height="22.10" fill="#2f6db5"/><rect x="421.29" y="343.40" width="3.9" height="26.30" fill="#55bb47"/><rect x="421.29" y="323.10" width="3.9" height="20.30" fill="#43b7ec"/><rect x="421.29" y="313.70" width="3.9" height="9.40" fill="#f4a12a"/><rect x="421.29" y="309.50" width="3.9" height="4.20" fill="#f8db3e"/><rect x="421.29" y="308.09" width="3.9" height="1.41" fill="#8c4cab"/><rect x="421.29" y="305.45" width="3.9" height="2.64" fill="#4fc2a6"/><rect x="421.29" y="303.69" width="3.9" height="1.76" fill="#4a449c"/><rect x="421.29" y="300.70" width="3.9" height="2.99" fill="#a88f9c"/><rect x="426.65" y="369.70" width="3.9" height="22.10" fill="#2f6db5"/><rect x="426.65" y="342.40" width="3.9" height="27.30" fill="#55bb47"/><rect x="426.65" y="322.30" width="3.9" height="20.10" fill="#43b7ec"/><rect x="426.65" y="312.30" width="3.9" height="10.00" fill="#f4a12a"/><rect x="426.65" y="308.60" width="3.9" height="3.70" fill="#f8db3e"/><rect x="426.65" y="307.14" width="3.9" height="1.46" fill="#8c4cab"/><rect x="426.65" y="304.41" width="3.9" height="2.73" fill="#4fc2a6"/><rect x="426.65" y="302.59" width="3.9" height="1.82" fill="#4a449c"/><rect x="426.65" y="299.50" width="3.9" height="3.09" fill="#a88f9c"/><rect x="432.01" y="370.70" width="3.9" height="21.10" fill="#2f6db5"/><rect x="432.01" y="342.40" width="3.9" height="28.30" fill="#55bb47"/><rect x="432.01" y="328.00" width="3.9" height="14.40" fill="#43b7ec"/><rect x="432.01" y="318.60" width="3.9" height="9.40" fill="#f4a12a"/><rect x="432.01" y="314.20" width="3.9" height="4.40" fill="#f8db3e"/><rect x="432.01" y="312.86" width="3.9" height="1.34" fill="#8c4cab"/><rect x="432.01" y="310.34" width="3.9" height="2.52" fill="#4fc2a6"/><rect x="432.01" y="308.66" width="3.9" height="1.68" fill="#4a449c"/><rect x="432.01" y="305.80" width="3.9" height="2.86" fill="#a88f9c"/><rect x="437.37" y="371.60" width="3.9" height="20.20" fill="#2f6db5"/><rect x="437.37" y="344.30" width="3.9" height="27.30" fill="#55bb47"/><rect x="437.37" y="329.30" width="3.9" height="15.00" fill="#43b7ec"/><rect x="437.37" y="323.60" width="3.9" height="5.70" fill="#f4a12a"/><rect x="437.37" y="319.90" width="3.9" height="3.70" fill="#f8db3e"/><rect x="437.37" y="318.54" width="3.9" height="1.36" fill="#8c4cab"/><rect x="437.37" y="315.99" width="3.9" height="2.55" fill="#4fc2a6"/><rect x="437.37" y="314.29" width="3.9" height="1.70" fill="#4a449c"/><rect x="437.37" y="311.40" width="3.9" height="2.89" fill="#a88f9c"/><rect x="442.73" y="367.90" width="3.9" height="23.90" fill="#2f6db5"/><rect x="442.73" y="348.10" width="3.9" height="19.80" fill="#55bb47"/><rect x="442.73" y="334.90" width="3.9" height="13.20" fill="#43b7ec"/><rect x="442.73" y="330.20" width="3.9" height="4.70" fill="#f4a12a"/><rect x="442.73" y="326.50" width="3.9" height="3.70" fill="#f8db3e"/><rect x="442.73" y="325.14" width="3.9" height="1.36" fill="#8c4cab"/><rect x="442.73" y="322.59" width="3.9" height="2.55" fill="#4fc2a6"/><rect x="442.73" y="320.89" width="3.9" height="1.70" fill="#4a449c"/><rect x="442.73" y="318.00" width="3.9" height="2.89" fill="#a88f9c"/><rect x="448.08" y="366.90" width="3.9" height="24.90" fill="#2f6db5"/><rect x="448.08" y="348.70" width="3.9" height="18.20" fill="#55bb47"/><rect x="448.08" y="334.90" width="3.9" height="13.80" fill="#43b7ec"/><rect x="448.08" y="329.80" width="3.9" height="5.10" fill="#f4a12a"/><rect x="448.08" y="326.10" width="3.9" height="3.70" fill="#f8db3e"/><rect x="448.08" y="324.80" width="3.9" height="1.30" fill="#8c4cab"/><rect x="448.08" y="322.37" width="3.9" height="2.43" fill="#4fc2a6"/><rect x="448.08" y="320.75" width="3.9" height="1.62" fill="#4a449c"/><rect x="448.08" y="318.00" width="3.9" height="2.75" fill="#a88f9c"/><rect x="453.44" y="367.50" width="3.9" height="24.30" fill="#2f6db5"/><rect x="453.44" y="343.00" width="3.9" height="24.50" fill="#55bb47"/><rect x="453.44" y="329.30" width="3.9" height="13.70" fill="#43b7ec"/><rect x="453.44" y="319.90" width="3.9" height="9.40" fill="#f4a12a"/><rect x="453.44" y="316.10" width="3.9" height="3.80" fill="#f8db3e"/><rect x="453.44" y="314.74" width="3.9" height="1.36" fill="#8c4cab"/><rect x="453.44" y="312.19" width="3.9" height="2.55" fill="#4fc2a6"/><rect x="453.44" y="310.49" width="3.9" height="1.70" fill="#4a449c"/><rect x="453.44" y="307.60" width="3.9" height="2.89" fill="#a88f9c"/><rect x="458.80" y="369.40" width="3.9" height="22.40" fill="#2f6db5"/><rect x="458.80" y="343.00" width="3.9" height="26.40" fill="#55bb47"/><rect x="458.80" y="330.20" width="3.9" height="12.80" fill="#43b7ec"/><rect x="458.80" y="320.80" width="3.9" height="9.40" fill="#f4a12a"/><rect x="458.80" y="316.70" width="3.9" height="4.10" fill="#f8db3e"/><rect x="458.80" y="315.24" width="3.9" height="1.46" fill="#8c4cab"/><rect x="458.80" y="312.51" width="3.9" height="2.73" fill="#4fc2a6"/><rect x="458.80" y="310.69" width="3.9" height="1.82" fill="#4a449c"/><rect x="458.80" y="307.60" width="3.9" height="3.09" fill="#a88f9c"/><rect x="464.16" y="345.30" width="3.9" height="46.50" fill="#2f6db5"/><rect x="464.16" y="319.30" width="3.9" height="26.00" fill="#55bb47"/><rect x="464.16" y="305.80" width="3.9" height="13.50" fill="#43b7ec"/><rect x="464.16" y="296.30" width="3.9" height="9.50" fill="#f4a12a"/><rect x="464.16" y="293.50" width="3.9" height="2.80" fill="#f8db3e"/><rect x="464.16" y="288.80" width="3.9" height="4.70" fill="#8c4cab"/><rect x="464.16" y="286.49" width="3.9" height="2.31" fill="#4fc2a6"/><rect x="464.16" y="285.17" width="3.9" height="1.32" fill="#8bbf3f"/><rect x="464.16" y="284.18" width="3.9" height="0.99" fill="#4a449c"/><rect x="464.16" y="282.20" width="3.9" height="1.98" fill="#a88f9c"/><rect x="469.52" y="360.30" width="3.9" height="31.50" fill="#2f6db5"/><rect x="469.52" y="337.70" width="3.9" height="22.60" fill="#55bb47"/><rect x="469.52" y="323.60" width="3.9" height="14.10" fill="#43b7ec"/><rect x="469.52" y="316.10" width="3.9" height="7.50" fill="#f4a12a"/><rect x="469.52" y="312.90" width="3.9" height="3.20" fill="#f8db3e"/><rect x="469.52" y="309.00" width="3.9" height="3.90" fill="#8c4cab"/><rect x="469.52" y="306.55" width="3.9" height="2.45" fill="#4fc2a6"/><rect x="469.52" y="305.15" width="3.9" height="1.40" fill="#8bbf3f"/><rect x="469.52" y="304.10" width="3.9" height="1.05" fill="#4a449c"/><rect x="469.52" y="302.00" width="3.9" height="2.10" fill="#a88f9c"/><rect x="474.88" y="373.10" width="3.9" height="18.70" fill="#2f6db5"/><rect x="474.88" y="365.00" width="3.9" height="8.10" fill="#55bb47"/><rect x="474.88" y="351.90" width="3.9" height="13.10" fill="#43b7ec"/><rect x="474.88" y="344.90" width="3.9" height="7.00" fill="#f4a12a"/><rect x="474.88" y="342.40" width="3.9" height="2.50" fill="#f8db3e"/><rect x="474.88" y="340.60" width="3.9" height="1.80" fill="#8c4cab"/><rect x="474.88" y="338.81" width="3.9" height="1.79" fill="#4fc2a6"/><rect x="474.88" y="337.80" width="3.9" height="1.02" fill="#8bbf3f"/><rect x="474.88" y="337.03" width="3.9" height="0.76" fill="#4a449c"/><rect x="474.88" y="335.50" width="3.9" height="1.53" fill="#a88f9c"/><rect x="480.24" y="373.10" width="3.9" height="18.70" fill="#2f6db5"/><rect x="480.24" y="367.50" width="3.9" height="5.60" fill="#55bb47"/><rect x="480.24" y="354.30" width="3.9" height="13.20" fill="#43b7ec"/><rect x="480.24" y="349.40" width="3.9" height="4.90" fill="#f4a12a"/><rect x="480.24" y="346.80" width="3.9" height="2.60" fill="#f8db3e"/><rect x="480.24" y="344.50" width="3.9" height="2.30" fill="#8c4cab"/><rect x="480.24" y="343.13" width="3.9" height="1.37" fill="#4fc2a6"/><rect x="480.24" y="342.36" width="3.9" height="0.78" fill="#8bbf3f"/><rect x="480.24" y="341.77" width="3.9" height="0.58" fill="#4a449c"/><rect x="480.24" y="340.60" width="3.9" height="1.17" fill="#a88f9c"/><rect x="485.60" y="373.10" width="3.9" height="18.70" fill="#2f6db5"/><rect x="485.60" y="367.90" width="3.9" height="5.20" fill="#55bb47"/><rect x="485.60" y="353.40" width="3.9" height="14.50" fill="#43b7ec"/><rect x="485.60" y="347.50" width="3.9" height="5.90" fill="#f4a12a"/><rect x="485.60" y="345.30" width="3.9" height="2.20" fill="#f8db3e"/><rect x="485.60" y="343.50" width="3.9" height="1.80" fill="#8c4cab"/><rect x="485.60" y="342.03" width="3.9" height="1.47" fill="#4fc2a6"/><rect x="485.60" y="341.19" width="3.9" height="0.84" fill="#8bbf3f"/><rect x="485.60" y="340.56" width="3.9" height="0.63" fill="#4a449c"/><rect x="485.60" y="339.30" width="3.9" height="1.26" fill="#a88f9c"/><rect x="490.96" y="373.10" width="3.9" height="18.70" fill="#2f6db5"/><rect x="490.96" y="358.80" width="3.9" height="14.30" fill="#55bb47"/><rect x="490.96" y="345.30" width="3.9" height="13.50" fill="#43b7ec"/><rect x="490.96" y="339.30" width="3.9" height="6.00" fill="#f4a12a"/><rect x="490.96" y="336.20" width="3.9" height="3.10" fill="#f8db3e"/><rect x="490.96" y="328.30" width="3.9" height="7.90" fill="#8c4cab"/><rect x="490.96" y="326.34" width="3.9" height="1.96" fill="#4fc2a6"/><rect x="490.96" y="325.22" width="3.9" height="1.12" fill="#8bbf3f"/><rect x="490.96" y="324.38" width="3.9" height="0.84" fill="#4a449c"/><rect x="490.96" y="322.70" width="3.9" height="1.68" fill="#a88f9c"/><rect x="496.32" y="373.10" width="3.9" height="18.70" fill="#2f6db5"/><rect x="496.32" y="354.70" width="3.9" height="18.40" fill="#55bb47"/><rect x="496.32" y="340.60" width="3.9" height="14.10" fill="#43b7ec"/><rect x="496.32" y="332.10" width="3.9" height="8.50" fill="#f4a12a"/><rect x="496.32" y="328.90" width="3.9" height="3.20" fill="#f8db3e"/><rect x="496.32" y="317.00" width="3.9" height="11.90" fill="#8c4cab"/><rect x="496.32" y="314.90" width="3.9" height="2.10" fill="#4fc2a6"/><rect x="496.32" y="313.70" width="3.9" height="1.20" fill="#8bbf3f"/><rect x="496.32" y="312.80" width="3.9" height="0.90" fill="#4a449c"/><rect x="496.32" y="311.00" width="3.9" height="1.80" fill="#a88f9c"/><rect x="501.68" y="373.10" width="3.9" height="18.70" fill="#2f6db5"/><rect x="501.68" y="354.70" width="3.9" height="18.40" fill="#55bb47"/><rect x="501.68" y="340.60" width="3.9" height="14.10" fill="#43b7ec"/><rect x="501.68" y="331.70" width="3.9" height="8.90" fill="#f4a12a"/><rect x="501.68" y="328.30" width="3.9" height="3.40" fill="#f8db3e"/><rect x="501.68" y="316.70" width="3.9" height="11.60" fill="#8c4cab"/><rect x="501.68" y="314.32" width="3.9" height="2.38" fill="#4fc2a6"/><rect x="501.68" y="312.96" width="3.9" height="1.36" fill="#8bbf3f"/><rect x="501.68" y="311.94" width="3.9" height="1.02" fill="#4a449c"/><rect x="501.68" y="309.90" width="3.9" height="2.04" fill="#a88f9c"/><rect x="507.03" y="373.10" width="3.9" height="18.70" fill="#2f6db5"/><rect x="507.03" y="354.70" width="3.9" height="18.40" fill="#55bb47"/><rect x="507.03" y="341.10" width="3.9" height="13.60" fill="#43b7ec"/><rect x="507.03" y="332.10" width="3.9" height="9.00" fill="#f4a12a"/><rect x="507.03" y="328.30" width="3.9" height="3.80" fill="#f8db3e"/><rect x="507.03" y="316.70" width="3.9" height="11.60" fill="#8c4cab"/><rect x="507.03" y="314.18" width="3.9" height="2.52" fill="#4fc2a6"/><rect x="507.03" y="312.74" width="3.9" height="1.44" fill="#8bbf3f"/><rect x="507.03" y="311.66" width="3.9" height="1.08" fill="#4a449c"/><rect x="507.03" y="309.50" width="3.9" height="2.16" fill="#a88f9c"/><rect x="512.39" y="374.40" width="3.9" height="17.40" fill="#2f6db5"/><rect x="512.39" y="356.90" width="3.9" height="17.50" fill="#55bb47"/><rect x="512.39" y="344.00" width="3.9" height="12.90" fill="#43b7ec"/><rect x="512.39" y="334.90" width="3.9" height="9.10" fill="#f4a12a"/><rect x="512.39" y="332.10" width="3.9" height="2.80" fill="#f8db3e"/><rect x="512.39" y="319.90" width="3.9" height="12.20" fill="#8c4cab"/><rect x="512.39" y="317.45" width="3.9" height="2.45" fill="#4fc2a6"/><rect x="512.39" y="316.05" width="3.9" height="1.40" fill="#8bbf3f"/><rect x="512.39" y="315.00" width="3.9" height="1.05" fill="#4a449c"/><rect x="512.39" y="312.90" width="3.9" height="2.10" fill="#a88f9c"/><rect x="517.75" y="375.40" width="3.9" height="16.40" fill="#2f6db5"/><rect x="517.75" y="363.10" width="3.9" height="12.30" fill="#55bb47"/><rect x="517.75" y="350.50" width="3.9" height="12.60" fill="#43b7ec"/><rect x="517.75" y="346.20" width="3.9" height="4.30" fill="#f4a12a"/><rect x="517.75" y="343.40" width="3.9" height="2.80" fill="#f8db3e"/><rect x="517.75" y="330.60" width="3.9" height="12.80" fill="#8c4cab"/><rect x="517.75" y="328.05" width="3.9" height="2.56" fill="#4fc2a6"/><rect x="517.75" y="326.59" width="3.9" height="1.46" fill="#8bbf3f"/><rect x="517.75" y="325.49" width="3.9" height="1.10" fill="#4a449c"/><rect x="517.75" y="323.30" width="3.9" height="2.19" fill="#a88f9c"/><rect x="523.11" y="375.40" width="3.9" height="16.40" fill="#2f6db5"/><rect x="523.11" y="364.10" width="3.9" height="11.30" fill="#55bb47"/><rect x="523.11" y="350.90" width="3.9" height="13.20" fill="#43b7ec"/><rect x="523.11" y="346.80" width="3.9" height="4.10" fill="#f4a12a"/><rect x="523.11" y="343.80" width="3.9" height="3.00" fill="#f8db3e"/><rect x="523.11" y="331.20" width="3.9" height="12.60" fill="#8c4cab"/><rect x="523.11" y="328.54" width="3.9" height="2.66" fill="#4fc2a6"/><rect x="523.11" y="327.02" width="3.9" height="1.52" fill="#8bbf3f"/><rect x="523.11" y="325.88" width="3.9" height="1.14" fill="#4a449c"/><rect x="523.11" y="323.60" width="3.9" height="2.28" fill="#a88f9c"/><rect x="528.47" y="375.40" width="3.9" height="16.40" fill="#2f6db5"/><rect x="528.47" y="358.40" width="3.9" height="17.00" fill="#55bb47"/><rect x="528.47" y="344.90" width="3.9" height="13.50" fill="#43b7ec"/><rect x="528.47" y="334.90" width="3.9" height="10.00" fill="#f4a12a"/><rect x="528.47" y="331.70" width="3.9" height="3.20" fill="#f8db3e"/><rect x="528.47" y="320.80" width="3.9" height="10.90" fill="#8c4cab"/><rect x="528.47" y="317.82" width="3.9" height="2.98" fill="#4fc2a6"/><rect x="528.47" y="316.12" width="3.9" height="1.70" fill="#8bbf3f"/><rect x="528.47" y="314.85" width="3.9" height="1.27" fill="#4a449c"/><rect x="528.47" y="312.30" width="3.9" height="2.55" fill="#a88f9c"/><rect x="533.83" y="375.00" width="3.9" height="16.80" fill="#2f6db5"/><rect x="533.83" y="353.20" width="3.9" height="21.80" fill="#55bb47"/><rect x="533.83" y="340.60" width="3.9" height="12.60" fill="#43b7ec"/><rect x="533.83" y="330.60" width="3.9" height="10.00" fill="#f4a12a"/><rect x="533.83" y="327.40" width="3.9" height="3.20" fill="#f8db3e"/><rect x="533.83" y="316.10" width="3.9" height="11.30" fill="#8c4cab"/><rect x="533.83" y="313.48" width="3.9" height="2.62" fill="#4fc2a6"/><rect x="533.83" y="311.98" width="3.9" height="1.50" fill="#8bbf3f"/><rect x="533.83" y="310.85" width="3.9" height="1.12" fill="#4a449c"/><rect x="533.83" y="308.60" width="3.9" height="2.25" fill="#a88f9c"/><rect x="539.19" y="374.40" width="3.9" height="17.40" fill="#2f6db5"/><rect x="539.19" y="353.20" width="3.9" height="21.20" fill="#55bb47"/><rect x="539.19" y="340.00" width="3.9" height="13.20" fill="#43b7ec"/><rect x="539.19" y="330.60" width="3.9" height="9.40" fill="#f4a12a"/><rect x="539.19" y="327.40" width="3.9" height="3.20" fill="#f8db3e"/><rect x="539.19" y="316.10" width="3.9" height="11.30" fill="#8c4cab"/><rect x="539.19" y="312.36" width="3.9" height="3.75" fill="#4fc2a6"/><rect x="539.19" y="310.22" width="3.9" height="2.14" fill="#8bbf3f"/><rect x="539.19" y="308.61" width="3.9" height="1.61" fill="#4a449c"/><rect x="539.19" y="305.40" width="3.9" height="3.21" fill="#a88f9c"/><rect x="544.55" y="375.80" width="3.9" height="16.00" fill="#2f6db5"/><rect x="544.55" y="354.70" width="3.9" height="21.10" fill="#55bb47"/><rect x="544.55" y="341.10" width="3.9" height="13.60" fill="#43b7ec"/><rect x="544.55" y="331.20" width="3.9" height="9.90" fill="#f4a12a"/><rect x="544.55" y="328.30" width="3.9" height="2.90" fill="#f8db3e"/><rect x="544.55" y="317.00" width="3.9" height="11.30" fill="#8c4cab"/><rect x="544.55" y="314.38" width="3.9" height="2.62" fill="#4fc2a6"/><rect x="544.55" y="312.88" width="3.9" height="1.50" fill="#8bbf3f"/><rect x="544.55" y="311.75" width="3.9" height="1.12" fill="#4a449c"/><rect x="544.55" y="309.50" width="3.9" height="2.25" fill="#a88f9c"/><rect x="549.91" y="376.30" width="3.9" height="15.50" fill="#2f6db5"/><rect x="549.91" y="356.60" width="3.9" height="19.70" fill="#55bb47"/><rect x="549.91" y="342.10" width="3.9" height="14.50" fill="#43b7ec"/><rect x="549.91" y="334.00" width="3.9" height="8.10" fill="#f4a12a"/><rect x="549.91" y="331.20" width="3.9" height="2.80" fill="#f8db3e"/><rect x="549.91" y="319.90" width="3.9" height="11.30" fill="#8c4cab"/><rect x="549.91" y="317.59" width="3.9" height="2.31" fill="#4fc2a6"/><rect x="549.91" y="316.27" width="3.9" height="1.32" fill="#8bbf3f"/><rect x="549.91" y="315.28" width="3.9" height="0.99" fill="#4a449c"/><rect x="549.91" y="313.30" width="3.9" height="1.98" fill="#a88f9c"/><rect x="555.26" y="376.90" width="3.9" height="14.90" fill="#2f6db5"/><rect x="555.26" y="362.60" width="3.9" height="14.30" fill="#55bb47"/><rect x="555.26" y="349.40" width="3.9" height="13.20" fill="#43b7ec"/><rect x="555.26" y="344.30" width="3.9" height="5.10" fill="#f4a12a"/><rect x="555.26" y="341.50" width="3.9" height="2.80" fill="#f8db3e"/><rect x="555.26" y="330.20" width="3.9" height="11.30" fill="#8c4cab"/><rect x="555.26" y="327.89" width="3.9" height="2.31" fill="#4fc2a6"/><rect x="555.26" y="326.57" width="3.9" height="1.32" fill="#8bbf3f"/><rect x="555.26" y="325.58" width="3.9" height="0.99" fill="#4a449c"/><rect x="555.26" y="323.60" width="3.9" height="1.98" fill="#a88f9c"/><rect x="560.62" y="376.90" width="3.9" height="14.90" fill="#2f6db5"/><rect x="560.62" y="363.70" width="3.9" height="13.20" fill="#55bb47"/><rect x="560.62" y="349.00" width="3.9" height="14.70" fill="#43b7ec"/><rect x="560.62" y="344.30" width="3.9" height="4.70" fill="#f4a12a"/><rect x="560.62" y="341.50" width="3.9" height="2.80" fill="#f8db3e"/><rect x="560.62" y="329.80" width="3.9" height="11.70" fill="#8c4cab"/><rect x="560.62" y="327.63" width="3.9" height="2.17" fill="#4fc2a6"/><rect x="560.62" y="326.39" width="3.9" height="1.24" fill="#8bbf3f"/><rect x="560.62" y="325.46" width="3.9" height="0.93" fill="#4a449c"/><rect x="560.62" y="323.60" width="3.9" height="1.86" fill="#a88f9c"/><rect x="565.98" y="377.30" width="3.9" height="14.50" fill="#2f6db5"/><rect x="565.98" y="358.40" width="3.9" height="18.90" fill="#55bb47"/><rect x="565.98" y="344.30" width="3.9" height="14.10" fill="#43b7ec"/><rect x="565.98" y="334.00" width="3.9" height="10.30" fill="#f4a12a"/><rect x="565.98" y="331.20" width="3.9" height="2.80" fill="#f8db3e"/><rect x="565.98" y="321.20" width="3.9" height="10.00" fill="#8c4cab"/><rect x="565.98" y="319.10" width="3.9" height="2.10" fill="#4fc2a6"/><rect x="565.98" y="317.90" width="3.9" height="1.20" fill="#8bbf3f"/><rect x="565.98" y="317.00" width="3.9" height="0.90" fill="#4a449c"/><rect x="565.98" y="315.20" width="3.9" height="1.80" fill="#a88f9c"/><rect x="571.34" y="377.60" width="3.9" height="14.20" fill="#2f6db5"/><rect x="571.34" y="357.50" width="3.9" height="20.10" fill="#55bb47"/><rect x="571.34" y="343.40" width="3.9" height="14.10" fill="#43b7ec"/><rect x="571.34" y="334.40" width="3.9" height="9.00" fill="#f4a12a"/><rect x="571.34" y="331.20" width="3.9" height="3.20" fill="#f8db3e"/><rect x="571.34" y="324.20" width="3.9" height="7.00" fill="#8c4cab"/><rect x="571.34" y="322.03" width="3.9" height="2.17" fill="#4fc2a6"/><rect x="571.34" y="320.79" width="3.9" height="1.24" fill="#8bbf3f"/><rect x="571.34" y="319.86" width="3.9" height="0.93" fill="#4a449c"/><rect x="571.34" y="318.00" width="3.9" height="1.86" fill="#a88f9c"/><rect x="576.70" y="373.10" width="3.9" height="18.70" fill="#2f6db5"/><rect x="576.70" y="353.70" width="3.9" height="19.40" fill="#55bb47"/><rect x="576.70" y="338.70" width="3.9" height="15.00" fill="#43b7ec"/><rect x="576.70" y="326.50" width="3.9" height="12.20" fill="#f4a12a"/><rect x="576.70" y="323.60" width="3.9" height="2.90" fill="#f8db3e"/><rect x="576.70" y="316.10" width="3.9" height="7.50" fill="#8c4cab"/><rect x="576.70" y="313.93" width="3.9" height="2.17" fill="#4fc2a6"/><rect x="576.70" y="312.69" width="3.9" height="1.24" fill="#8bbf3f"/><rect x="576.70" y="311.76" width="3.9" height="0.93" fill="#4a449c"/><rect x="576.70" y="309.90" width="3.9" height="1.86" fill="#a88f9c"/><rect x="582.06" y="373.90" width="3.9" height="17.90" fill="#2f6db5"/><rect x="582.06" y="355.60" width="3.9" height="18.30" fill="#55bb47"/><rect x="582.06" y="340.60" width="3.9" height="15.00" fill="#43b7ec"/><rect x="582.06" y="329.30" width="3.9" height="11.30" fill="#f4a12a"/><rect x="582.06" y="326.50" width="3.9" height="2.80" fill="#f8db3e"/><rect x="582.06" y="319.90" width="3.9" height="6.60" fill="#8c4cab"/><rect x="582.06" y="318.25" width="3.9" height="1.64" fill="#4fc2a6"/><rect x="582.06" y="317.31" width="3.9" height="0.94" fill="#8bbf3f"/><rect x="582.06" y="316.61" width="3.9" height="0.70" fill="#4a449c"/><rect x="582.06" y="315.20" width="3.9" height="1.41" fill="#a88f9c"/><rect x="137.26" y="312.2" width="3.9" height="11.10" fill="#9a9a9a"/><path d="M101.70,305.10 C102.57,306.83 105.10,313.47 106.90,315.50 C108.70,317.53 110.70,316.80 112.50,317.30 C114.30,317.80 115.97,318.60 117.70,318.50 C119.43,318.40 121.12,317.87 122.90,316.70 C124.68,315.53 126.58,311.20 128.40,311.50 C130.22,311.80 131.98,316.82 133.80,318.50 C135.62,320.18 137.87,319.35 139.30,321.60 C140.73,323.85 141.47,328.82 142.40,332.00 C143.33,335.18 143.62,339.40 144.90,340.70 C146.18,342.00 148.35,341.25 150.10,339.80 C151.85,338.35 153.65,333.25 155.40,332.00 C157.15,330.75 158.83,331.78 160.60,332.30 C162.37,332.82 164.22,335.10 166.00,335.10 C167.78,335.10 169.50,332.47 171.30,332.30 C173.10,332.13 175.02,333.52 176.80,334.10 C178.58,334.68 180.23,335.52 182.00,335.80 C183.77,336.08 185.63,336.08 187.40,335.80 C189.17,335.52 190.82,335.45 192.60,334.10 C194.38,332.75 196.60,330.93 198.10,327.70 C199.60,324.47 200.67,317.37 201.60,314.70 C202.53,312.03 202.48,312.05 203.70,311.70 C204.92,311.35 207.18,312.17 208.90,312.60 C210.62,313.03 212.25,313.62 214.00,314.30 C215.75,314.98 217.60,315.83 219.40,316.70 C221.20,317.57 222.97,319.83 224.80,319.50 C226.63,319.17 228.60,316.00 230.40,314.70 C232.20,313.40 233.83,311.93 235.60,311.70 C237.37,311.47 239.23,313.38 241.00,313.30 C242.77,313.22 244.42,310.53 246.20,311.20 C247.98,311.87 249.92,315.72 251.70,317.30 C253.48,318.88 255.10,320.70 256.90,320.70 C258.70,320.70 260.68,318.65 262.50,317.30 C264.32,315.95 266.02,312.75 267.80,312.60 C269.58,312.45 271.40,314.47 273.20,316.40 C275.00,318.33 276.83,323.62 278.60,324.20 C280.37,324.78 282.03,321.27 283.80,319.90 C285.57,318.53 287.40,315.43 289.20,316.00 C291.00,316.57 292.83,322.52 294.60,323.30 C296.37,324.08 298.02,319.40 299.80,320.70 C301.58,322.00 303.52,329.07 305.30,331.10 C307.08,333.13 308.72,333.27 310.50,332.90 C312.28,332.53 314.20,329.33 316.00,328.90 C317.80,328.47 319.53,329.78 321.30,330.30 C323.07,330.82 324.82,330.85 326.60,332.00 C328.38,333.15 330.20,336.48 332.00,337.20 C333.80,337.92 335.60,337.32 337.40,336.30 C339.20,335.28 341.03,332.83 342.80,331.10 C344.57,329.37 346.22,327.52 348.00,325.90 C349.78,324.28 351.70,322.32 353.50,321.40 C355.30,320.48 357.03,320.25 358.80,320.40 C360.57,320.55 362.33,320.67 364.10,322.30 C365.87,323.93 367.63,328.72 369.40,330.20 C371.17,331.68 372.92,331.88 374.70,331.20 C376.48,330.52 378.32,328.93 380.10,326.10 C381.88,323.27 383.83,319.17 385.40,314.20 C386.97,309.23 388.60,299.53 389.50,296.30 C390.40,293.07 389.70,294.80 390.80,294.80 C391.90,294.80 394.30,296.30 396.10,296.30 C397.90,296.30 399.78,293.92 401.60,294.80 C403.42,295.68 405.18,300.87 407.00,301.60 C408.82,302.33 410.72,301.22 412.50,299.20 C414.28,297.18 415.97,290.28 417.70,289.50 C419.43,288.72 421.08,294.15 422.90,294.50 C424.72,294.85 426.78,291.98 428.60,291.60 C430.42,291.22 432.02,292.42 433.80,292.20 C435.58,291.98 437.50,290.55 439.30,290.30 C441.10,290.05 442.82,290.25 444.60,290.70 C446.38,291.15 448.22,293.47 450.00,293.00 C451.78,292.53 453.52,288.53 455.30,287.90 C457.08,287.27 458.92,290.37 460.70,289.20 C462.48,288.03 464.20,280.02 466.00,280.90 C467.80,281.78 469.80,289.73 471.50,294.50 C473.20,299.27 474.47,306.22 476.20,309.50 C477.93,312.78 480.07,313.73 481.90,314.20 C483.73,314.67 485.45,314.65 487.20,312.30 C488.95,309.95 490.62,302.92 492.40,300.10 C494.18,297.28 496.07,296.50 497.90,295.40 C499.73,294.30 501.58,292.87 503.40,293.50 C505.22,294.13 507.02,298.47 508.80,299.20 C510.58,299.93 512.32,298.00 514.10,297.90 C515.88,297.80 517.72,298.30 519.50,298.60 C521.28,298.90 523.03,300.23 524.80,299.70 C526.57,299.17 528.32,296.12 530.10,295.40 C531.88,294.68 533.68,295.72 535.50,295.40 C537.32,295.08 539.18,293.50 541.00,293.50 C542.82,293.50 544.63,294.55 546.40,295.40 C548.17,296.25 549.85,296.87 551.60,298.60 C553.35,300.33 555.10,305.23 556.90,305.80 C558.70,306.37 560.62,303.88 562.40,302.00 C564.18,300.12 565.85,295.07 567.60,294.50 C569.35,293.93 571.10,298.92 572.90,298.60 C574.70,298.28 576.55,293.35 578.40,292.60 C580.25,291.85 583.07,293.85 584.00,294.10" fill="none" stroke="#262626" stroke-width="1.35" stroke-linejoin="round" stroke-linecap="round"/></svg>
<div class="t" style="top:270.48px;font-size:7.3px;line-height:7.3px;font-weight:400;color:#3a3a3a;left:635.20px;">Engagements</div>
<div class="t" style="top:283.18px;font-size:7.3px;line-height:7.3px;font-weight:400;color:#3a3a3a;left:635.20px;">The Trade Desk Ads</div>
<div class="t" style="top:295.88px;font-size:7.3px;line-height:7.3px;font-weight:400;color:#3a3a3a;left:635.20px;">LinkedIn Ads</div>
<div class="t" style="top:308.58px;font-size:7.3px;line-height:7.3px;font-weight:400;color:#3a3a3a;left:635.20px;">Google DV360</div>
<div class="t" style="top:321.28px;font-size:7.3px;line-height:7.3px;font-weight:400;color:#3a3a3a;left:635.20px;">Google Search Ads</div>
<div class="t" style="top:333.98px;font-size:7.3px;line-height:7.3px;font-weight:400;color:#3a3a3a;left:635.20px;">Yahoo Ads</div>
<div class="t" style="top:346.68px;font-size:7.3px;line-height:7.3px;font-weight:400;color:#3a3a3a;left:635.20px;">Facebook Ads</div>
<div class="t" style="top:359.38px;font-size:7.3px;line-height:7.3px;font-weight:400;color:#3a3a3a;left:635.20px;">Google DV360 YouTube</div>
<div class="t" style="top:372.08px;font-size:7.3px;line-height:7.3px;font-weight:400;color:#3a3a3a;left:635.20px;">Google Discovery Ads</div>
<div class="t" style="top:384.78px;font-size:7.3px;line-height:7.3px;font-weight:400;color:#3a3a3a;left:635.20px;">Instagram Ads</div>
<svg style="left:0;top:0" width="992" height="664" viewBox="0 0 992 664"><path d="M624 273.4 L629.3 273.4" stroke="#333" stroke-width="1.2"/><circle cx="626.6" cy="286.10" r="2.75" fill="#2f6db5"/><circle cx="626.6" cy="298.80" r="2.75" fill="#55bb47"/><circle cx="626.6" cy="311.50" r="2.75" fill="#43b7ec"/><circle cx="626.6" cy="324.20" r="2.75" fill="#f4a12a"/><circle cx="626.6" cy="336.90" r="2.75" fill="#f8db3e"/><circle cx="626.6" cy="349.60" r="2.75" fill="#8c4cab"/><circle cx="626.6" cy="362.30" r="2.75" fill="#4fc2a6"/><circle cx="626.6" cy="375.00" r="2.75" fill="#4a449c"/><circle cx="626.6" cy="387.70" r="2.75" fill="#8bbf3f"/></svg>
<div class="r" style="left:757px;top:244px;width:218px;height:169.7px;background:#ffffff;border-radius:8px;"></div>
<div class="t" style="top:251.47px;font-size:7.8px;line-height:7.8px;font-weight:700;color:#1e1e1e;left:768.00px;">Marketing Mix</div>
<svg style="left:954.50px;top:255.10px" width="9" height="3" viewBox="0 0 9 3"><circle cx="1.2" cy="1.5" r="0.95" fill="#222"/><circle cx="4.4" cy="1.5" r="0.95" fill="#222"/><circle cx="7.6" cy="1.5" r="0.95" fill="#222"/></svg>
<div class="r" style="left:757px;top:266.4px;width:218px;height:19.4px;background:#f3f3f3;border-radius:0px;"></div>
<div class="t" style="top:272.68px;font-size:7.1px;line-height:7.1px;font-weight:400;color:#2a2a2a;left:768.00px;">Channel</div>
<div class="t" style="top:272.78px;font-size:7.1px;line-height:7.1px;font-weight:400;color:#2a2a2a;left:673.30px;width:400px;text-align:center;">Spend</div>
<div class="t" style="top:272.78px;font-size:7.1px;line-height:7.1px;font-weight:400;color:#2a2a2a;left:906.20px;">Engagements</div>
<svg style="left:952.8px;top:275px" width="5" height="4" viewBox="0 0 5 4"><path d="M0.6 0.8 L2.4 2.6 L4.2 0.8" fill="none" stroke="#444" stroke-width="0.8"/></svg>
<div class="t" style="top:293.33px;font-size:7.2px;line-height:7.2px;font-weight:400;color:#262626;left:786.70px;">Website</div>
<div class="t" style="top:293.33px;font-size:7.2px;line-height:7.2px;font-weight:400;color:#333;left:673.30px;width:400px;text-align:center;">–</div>
<div class="t" style="top:293.33px;font-size:7.2px;line-height:7.2px;font-weight:400;color:#333;left:732.80px;width:400px;text-align:center;">2.1M</div>
<div class="t" style="top:311.23px;font-size:7.2px;line-height:7.2px;font-weight:400;color:#333;left:786.70px;">Google Discovery</div>
<div class="t" style="top:318.43px;font-size:7.2px;line-height:7.2px;font-weight:400;color:#333;left:786.70px;">Ads</div>
<div class="t" style="top:314.73px;font-size:7.2px;line-height:7.2px;font-weight:400;color:#333;left:673.30px;width:400px;text-align:center;">$130K</div>
<div class="t" style="top:314.73px;font-size:7.2px;line-height:7.2px;font-weight:400;color:#333;left:732.80px;width:400px;text-align:center;">1.05M</div>
<div class="t" style="top:335.93px;font-size:7.2px;line-height:7.2px;font-weight:400;color:#262626;left:786.70px;">Yahoo Ads</div>
<div class="t" style="top:335.93px;font-size:7.2px;line-height:7.2px;font-weight:400;color:#333;left:673.30px;width:400px;text-align:center;">$317K</div>
<div class="t" style="top:335.93px;font-size:7.2px;line-height:7.2px;font-weight:400;color:#333;left:732.80px;width:400px;text-align:center;">590K</div>
<div class="t" style="top:357.13px;font-size:7.2px;line-height:7.2px;font-weight:400;color:#262626;left:786.70px;">The Trade Desk Ads</div>
<div class="t" style="top:357.13px;font-size:7.2px;line-height:7.2px;font-weight:400;color:#333;left:673.30px;width:400px;text-align:center;">$2.19M</div>
<div class="t" style="top:357.13px;font-size:7.2px;line-height:7.2px;font-weight:400;color:#333;left:732.80px;width:400px;text-align:center;">538K</div>
<div class="t" style="top:378.13px;font-size:7.2px;line-height:7.2px;font-weight:400;color:#262626;left:786.70px;">Google DV360</div>
<div class="t" style="top:378.13px;font-size:7.2px;line-height:7.2px;font-weight:400;color:#333;left:673.30px;width:400px;text-align:center;">$1.09M</div>
<div class="t" style="top:378.13px;font-size:7.2px;line-height:7.2px;font-weight:400;color:#333;left:732.80px;width:400px;text-align:center;">532K</div>
<svg style="left:0;top:0" width="992" height="664" viewBox="0 0 992 664">
<circle cx="774.7" cy="296.9" r="5.3" fill="#fff" stroke="#111" stroke-width="1.9"/>
<path d="M774.5 294.3 L773.1 299.3 M776.5 294.3 L775.1 299.3" stroke="#2fae5a" stroke-width="1"/>
<path d="M779.4 316.3 A5.6 5.6 0 1 0 780.2 319.4 L775.4 319.4" fill="none" stroke="#4285f4" stroke-width="2.2"/>
<path d="M770.3 315.2 A5.6 5.6 0 0 1 779.4 316.3" fill="none" stroke="#ea4335" stroke-width="2.2"/>
<path d="M770.3 315.2 A5.6 5.6 0 0 0 770.5 322.4" fill="none" stroke="#fbbc05" stroke-width="2.2"/>
<path d="M770.5 322.4 A5.6 5.6 0 0 0 778.9 323.2" fill="none" stroke="#34a853" stroke-width="2.2"/>
<path d="M768.4 336.2 L771.6 342.4 M774.8 336.2 L770.6 345.6" stroke="#6001d2" stroke-width="2.3" stroke-linecap="round"/>
<path d="M780.6 333.6 L778.2 340.6" stroke="#6001d2" stroke-width="2.2" stroke-linecap="round"/>
<circle cx="777.6" cy="343.2" r="1.2" fill="#6001d2"/>
<path d="M771.2 356.4 A5.6 5.6 0 1 0 778.2 356.4" fill="none" stroke="#1fa0e6" stroke-width="2.1"/>
<path d="M774.7 354.4 L774.7 361.2" stroke="#1fa0e6" stroke-width="2"/>
<path d="M772.6 354.4 L774.7 354.4" stroke="#1fa0e6" stroke-width="1.6"/>
<path d="M769.4 376.4 Q768.6 375.4 769.8 375.2 L780.2 381 Q781 381.6 780.2 382.2 L769.8 388.4 Q768.6 388.6 769 387.4 Z" fill="#2f9c5a"/>
<path d="M769.4 381.6 L780.2 381.6 L769.8 388.4 Q768.6 388.6 769 387.4 Z" fill="#1e8a4a"/>
<path d="M772.8 379.6 L776.2 381.8 L772.8 384 Z" fill="#bfe3cc"/>
<path d="M770 371.5 L852 371.5" stroke="#edf2f6" stroke-width="0.8"/>
</svg>
<div class="r" style="left:757px;top:389.8px;width:218px;height:1.3px;background:#666;border-radius:0px;"></div>
<div class="t" style="top:398.73px;font-size:7.0px;line-height:7.0px;font-weight:700;color:#1e1e1e;left:766.00px;">Grand Total</div>
<div class="t" style="top:398.63px;font-size:7.2px;line-height:7.2px;font-weight:700;color:#1e1e1e;left:673.30px;width:400px;text-align:center;">$6.89M</div>
<div class="t" style="top:398.63px;font-size:7.2px;line-height:7.2px;font-weight:700;color:#1e1e1e;left:732.80px;width:400px;text-align:center;">6.08M</div>
<div class="r" style="left:60px;top:428.8px;width:451px;height:240px;background:#ffffff;border-radius:8px;"></div>
<div class="t" style="top:435.82px;font-size:7.8px;line-height:7.8px;font-weight:700;color:#1e1e1e;left:71.30px;">Account Activity</div>
<div class="r" style="left:60px;top:451.2px;width:451px;height:19.5px;background:#f3f3f3;border-radius:0px;"></div>
<div class="t" style="top:457.58px;font-size:7.1px;line-height:7.1px;font-weight:400;color:#2a2a2a;left:71.30px;">Account</div>
<div class="t" style="top:457.58px;font-size:7.1px;line-height:7.1px;font-weight:400;color:#2a2a2a;left:-25.00px;width:400px;text-align:center;">Trend</div>
<div class="t" style="top:457.58px;font-size:7.1px;line-height:7.1px;font-weight:400;color:#2a2a2a;left:15.60px;width:400px;text-align:center;">Δ%</div>
<div class="t" style="top:457.58px;font-size:7.1px;line-height:7.1px;font-weight:400;color:#2a2a2a;left:72.40px;width:400px;text-align:center;">Impressions</div>
<div class="t" style="top:457.58px;font-size:7.1px;line-height:7.1px;font-weight:400;color:#2a2a2a;left:138.30px;width:400px;text-align:center;">Engagements</div>
<svg style="left:363.30px;top:459.6px" width="5" height="4" viewBox="0 0 5 4"><path d="M0.6 0.8 L2.4 2.6 L4.2 0.8" fill="none" stroke="#444" stroke-width="0.8"/></svg>
<div class="t" style="top:457.58px;font-size:7.1px;line-height:7.1px;font-weight:400;color:#2a2a2a;left:210.40px;width:400px;text-align:center;">Form Fills</div>
<div class="t" style="top:457.58px;font-size:7.1px;line-height:7.1px;font-weight:400;color:#2a2a2a;left:274.40px;width:400px;text-align:center;"># of Channels</div>
<div class="t" style="top:478.23px;font-size:7.4px;line-height:7.4px;font-weight:400;color:#262626;left:89.10px;">wellsfargo.com</div>
<svg style="left:0;top:0" width="992" height="664" viewBox="0 0 992 664"><path d="M164.80,484.70 L169.80,485.00 L174.80,484.70 L177.80,484.30 L179.80,483.50 L181.20,478.30 L182.40,480.10 L184.20,484.30" fill="none" stroke="#8a8a8a" stroke-width="0.8" stroke-linejoin="round"/></svg>
<div class="r" style="left:155.40px;top:476.60px;width:120px;height:10.2px;display:flex;justify-content:center;"><div style="background:#eef4f3;border-radius:5.1px;height:10.2px;padding:0 4.6px 0 4.8px;display:flex;align-items:center;"><svg style="position:static;display:block;margin-right:3.3px" width="5.2" height="5.4" viewBox="0 0 5.2 5.4"><path d="M2.6 0.5 L2.6 5.2 M0.4 2.6 L2.6 0.5 L4.8 2.6" fill="none" stroke="#2a8d55" stroke-width="0.95" stroke-linecap="round" stroke-linejoin="round"/></svg><span style="font-size:6.5px;line-height:10.2px;font-weight:700;color:#2a8d55;letter-spacing:-0.1px;white-space:nowrap">456%</span></div></div>
<div class="t" style="top:478.13px;font-size:7.0px;line-height:7.0px;font-weight:400;color:#262626;left:72.40px;width:400px;text-align:center;">104K</div>
<div class="t" style="top:478.13px;font-size:7.0px;line-height:7.0px;font-weight:400;color:#262626;left:143.50px;width:400px;text-align:center;">5.58K</div>
<div class="t" style="top:478.13px;font-size:7.0px;line-height:7.0px;font-weight:400;color:#262626;left:210.40px;width:400px;text-align:center;">0</div>
<div class="t" style="top:478.13px;font-size:7.0px;line-height:7.0px;font-weight:400;color:#262626;left:274.40px;width:400px;text-align:center;">15</div>
<div class="t" style="top:498.93px;font-size:7.4px;line-height:7.4px;font-weight:400;color:#262626;left:89.10px;">proofpoint.com</div>
<svg style="left:0;top:0" width="992" height="664" viewBox="0 0 992 664"><path d="M164.80,506.60 L165.80,501.20 L167.00,502.00 L168.80,500.80 L170.40,501.60 L172.20,500.80 L174.00,501.80 L176.00,501.20 L177.40,501.60 L178.20,505.80 L180.40,506.20 L184.20,506.00" fill="none" stroke="#8a8a8a" stroke-width="0.8" stroke-linejoin="round"/></svg>
<div class="r" style="left:155.40px;top:497.30px;width:120px;height:10.2px;display:flex;justify-content:center;"><div style="background:#f9eeef;border-radius:5.1px;height:10.2px;padding:0 4.6px 0 4.8px;display:flex;align-items:center;"><svg style="position:static;display:block;margin-right:3.3px" width="5.2" height="5.4" viewBox="0 0 5.2 5.4"><path d="M2.6 0.2 L2.6 4.9 M0.4 2.8 L2.6 4.9 L4.8 2.8" fill="none" stroke="#c22f3e" stroke-width="0.95" stroke-linecap="round" stroke-linejoin="round"/></svg><span style="font-size:6.5px;line-height:10.2px;font-weight:700;color:#c22f3e;letter-spacing:-0.1px;white-space:nowrap">-29%</span></div></div>
<div class="t" style="top:498.83px;font-size:7.0px;line-height:7.0px;font-weight:400;color:#262626;left:72.40px;width:400px;text-align:center;">3.58K</div>
<div class="t" style="top:498.83px;font-size:7.0px;line-height:7.0px;font-weight:400;color:#262626;left:143.50px;width:400px;text-align:center;">3.68K</div>
<div class="t" style="top:498.83px;font-size:7.0px;line-height:7.0px;font-weight:400;color:#262626;left:210.40px;width:400px;text-align:center;">0</div>
<div class="t" style="top:498.83px;font-size:7.0px;line-height:7.0px;font-weight:400;color:#262626;left:274.40px;width:400px;text-align:center;">10</div>
<div class="t" style="top:519.63px;font-size:7.4px;line-height:7.4px;font-weight:400;color:#262626;left:89.10px;">ti.com</div>
<svg style="left:0;top:0" width="992" height="664" viewBox="0 0 992 664"><path d="M164.80,526.10 L169.80,526.40 L174.80,526.10 L177.80,525.70 L179.80,524.90 L181.20,519.70 L182.40,521.50 L184.20,525.70" fill="none" stroke="#8a8a8a" stroke-width="0.8" stroke-linejoin="round"/></svg>
<div class="r" style="left:155.40px;top:518.00px;width:120px;height:10.2px;display:flex;justify-content:center;"><div style="background:#eef4f3;border-radius:5.1px;height:10.2px;padding:0 4.6px 0 4.8px;display:flex;align-items:center;"><svg style="position:static;display:block;margin-right:3.3px" width="5.2" height="5.4" viewBox="0 0 5.2 5.4"><path d="M2.6 0.5 L2.6 5.2 M0.4 2.6 L2.6 0.5 L4.8 2.6" fill="none" stroke="#2a8d55" stroke-width="0.95" stroke-linecap="round" stroke-linejoin="round"/></svg><span style="font-size:6.5px;line-height:10.2px;font-weight:700;color:#2a8d55;letter-spacing:-0.1px;white-space:nowrap">1K%</span></div></div>
<div class="t" style="top:519.53px;font-size:7.0px;line-height:7.0px;font-weight:400;color:#262626;left:72.40px;width:400px;text-align:center;">25.4K</div>
<div class="t" style="top:519.53px;font-size:7.0px;line-height:7.0px;font-weight:400;color:#262626;left:143.50px;width:400px;text-align:center;">3.3K</div>
<div class="t" style="top:519.53px;font-size:7.0px;line-height:7.0px;font-weight:400;color:#262626;left:210.40px;width:400px;text-align:center;">0</div>
<div class="t" style="top:519.53px;font-size:7.0px;line-height:7.0px;font-weight:400;color:#262626;left:274.40px;width:400px;text-align:center;">12</div>
<div class="t" style="top:540.33px;font-size:7.4px;line-height:7.4px;font-weight:400;color:#262626;left:89.10px;">blackberry.com</div>
<svg style="left:0;top:0" width="992" height="664" viewBox="0 0 992 664"><path d="M164.80,547.80 L165.80,542.80 L167.20,543.60 L169.00,542.40 L170.40,543.40 L172.40,542.00 L174.20,543.40 L176.20,542.80 L177.60,543.00 L178.20,547.00 L180.40,547.40 L184.20,547.20" fill="none" stroke="#8a8a8a" stroke-width="0.8" stroke-linejoin="round"/></svg>
<div class="r" style="left:155.40px;top:538.70px;width:120px;height:10.2px;display:flex;justify-content:center;"><div style="background:#f9eeef;border-radius:5.1px;height:10.2px;padding:0 4.6px 0 4.8px;display:flex;align-items:center;"><svg style="position:static;display:block;margin-right:3.3px" width="5.2" height="5.4" viewBox="0 0 5.2 5.4"><path d="M2.6 0.2 L2.6 4.9 M0.4 2.8 L2.6 4.9 L4.8 2.8" fill="none" stroke="#c22f3e" stroke-width="0.95" stroke-linecap="round" stroke-linejoin="round"/></svg><span style="font-size:6.5px;line-height:10.2px;font-weight:700;color:#c22f3e;letter-spacing:-0.1px;white-space:nowrap">-1%</span></div></div>
<div class="t" style="top:540.23px;font-size:7.0px;line-height:7.0px;font-weight:400;color:#262626;left:72.40px;width:400px;text-align:center;">3.72K</div>
<div class="t" style="top:540.23px;font-size:7.0px;line-height:7.0px;font-weight:400;color:#262626;left:143.50px;width:400px;text-align:center;">2.81K</div>
<div class="t" style="top:540.23px;font-size:7.0px;line-height:7.0px;font-weight:400;color:#262626;left:210.40px;width:400px;text-align:center;">0</div>
<div class="t" style="top:540.23px;font-size:7.0px;line-height:7.0px;font-weight:400;color:#262626;left:274.40px;width:400px;text-align:center;">11</div>
<div class="t" style="top:561.03px;font-size:7.4px;line-height:7.4px;font-weight:400;color:#262626;left:89.10px;">divisiond.com</div>
<svg style="left:0;top:0" width="992" height="664" viewBox="0 0 992 664"><path d="M164.80,567.50 L167.80,567.50 L169.80,567.10 L171.20,561.70 L172.40,567.10 L174.20,566.70 L176.20,567.10 L178.00,561.70 L179.20,566.70 L180.80,567.30 L184.20,567.50" fill="none" stroke="#8a8a8a" stroke-width="0.8" stroke-linejoin="round"/></svg>
<div class="r" style="left:155.40px;top:559.40px;width:120px;height:10.2px;display:flex;justify-content:center;"><div style="background:#eef4f3;border-radius:5.1px;height:10.2px;padding:0 4.6px 0 4.8px;display:flex;align-items:center;"><svg style="position:static;display:block;margin-right:3.3px" width="5.2" height="5.4" viewBox="0 0 5.2 5.4"><path d="M2.6 0.5 L2.6 5.2 M0.4 2.6 L2.6 0.5 L4.8 2.6" fill="none" stroke="#2a8d55" stroke-width="0.95" stroke-linecap="round" stroke-linejoin="round"/></svg><span style="font-size:6.5px;line-height:10.2px;font-weight:700;color:#2a8d55;letter-spacing:-0.1px;white-space:nowrap">74%</span></div></div>
<div class="t" style="top:560.93px;font-size:7.0px;line-height:7.0px;font-weight:400;color:#262626;left:72.40px;width:400px;text-align:center;">1.1K</div>
<div class="t" style="top:560.93px;font-size:7.0px;line-height:7.0px;font-weight:400;color:#262626;left:143.50px;width:400px;text-align:center;">2.63K</div>
<div class="t" style="top:560.93px;font-size:7.0px;line-height:7.0px;font-weight:400;color:#262626;left:210.40px;width:400px;text-align:center;">1</div>
<div class="t" style="top:560.93px;font-size:7.0px;line-height:7.0px;font-weight:400;color:#262626;left:274.40px;width:400px;text-align:center;">9</div>
<div class="t" style="top:581.73px;font-size:7.4px;line-height:7.4px;font-weight:400;color:#262626;left:89.10px;">accenture.com</div>
<svg style="left:0;top:0" width="992" height="664" viewBox="0 0 992 664"><path d="M164.80,588.20 L168.80,587.60 L170.80,586.40 L172.20,582.60 L173.60,586.40 L176.80,587.00 L180.80,587.60 L184.20,588.20" fill="none" stroke="#8a8a8a" stroke-width="0.8" stroke-linejoin="round"/></svg>
<div class="r" style="left:155.40px;top:580.10px;width:120px;height:10.2px;display:flex;justify-content:center;"><div style="background:#eef4f3;border-radius:5.1px;height:10.2px;padding:0 4.6px 0 4.8px;display:flex;align-items:center;"><svg style="position:static;display:block;margin-right:3.3px" width="5.2" height="5.4" viewBox="0 0 5.2 5.4"><path d="M2.6 0.5 L2.6 5.2 M0.4 2.6 L2.6 0.5 L4.8 2.6" fill="none" stroke="#2a8d55" stroke-width="0.95" stroke-linecap="round" stroke-linejoin="round"/></svg><span style="font-size:6.5px;line-height:10.2px;font-weight:700;color:#2a8d55;letter-spacing:-0.1px;white-space:nowrap">61%</span></div></div>
<div class="t" style="top:581.63px;font-size:7.0px;line-height:7.0px;font-weight:400;color:#262626;left:72.40px;width:400px;text-align:center;">445K</div>
<div class="t" style="top:581.63px;font-size:7.0px;line-height:7.0px;font-weight:400;color:#262626;left:143.50px;width:400px;text-align:center;">2.48K</div>
<div class="t" style="top:581.63px;font-size:7.0px;line-height:7.0px;font-weight:400;color:#262626;left:210.40px;width:400px;text-align:center;">20</div>
<div class="t" style="top:581.63px;font-size:7.0px;line-height:7.0px;font-weight:400;color:#262626;left:274.40px;width:400px;text-align:center;">19</div>
<div class="t" style="top:602.43px;font-size:7.4px;line-height:7.4px;font-weight:400;color:#262626;left:89.10px;">publicisgroupe.com</div>
<svg style="left:0;top:0" width="992" height="664" viewBox="0 0 992 664"><path d="M164.80,609.10 L166.80,608.70 L168.80,607.10 L170.80,607.90 L172.80,607.30 L174.80,607.90 L176.80,607.10 L178.80,607.50 L180.40,607.10 L181.60,602.50 L183.00,608.30" fill="none" stroke="#8a8a8a" stroke-width="0.8" stroke-linejoin="round"/></svg>
<div class="r" style="left:155.40px;top:600.80px;width:120px;height:10.2px;display:flex;justify-content:center;"><div style="background:#eef4f3;border-radius:5.1px;height:10.2px;padding:0 4.6px 0 4.8px;display:flex;align-items:center;"><svg style="position:static;display:block;margin-right:3.3px" width="5.2" height="5.4" viewBox="0 0 5.2 5.4"><path d="M2.6 0.5 L2.6 5.2 M0.4 2.6 L2.6 0.5 L4.8 2.6" fill="none" stroke="#2a8d55" stroke-width="0.95" stroke-linecap="round" stroke-linejoin="round"/></svg><span style="font-size:6.5px;line-height:10.2px;font-weight:700;color:#2a8d55;letter-spacing:-0.1px;white-space:nowrap">148%</span></div></div>
<div class="t" style="top:602.33px;font-size:7.0px;line-height:7.0px;font-weight:400;color:#262626;left:72.40px;width:400px;text-align:center;">53.9K</div>
<div class="t" style="top:602.33px;font-size:7.0px;line-height:7.0px;font-weight:400;color:#262626;left:143.50px;width:400px;text-align:center;">2.38K</div>
<div class="t" style="top:602.33px;font-size:7.0px;line-height:7.0px;font-weight:400;color:#262626;left:210.40px;width:400px;text-align:center;">54</div>
<div class="t" style="top:602.33px;font-size:7.0px;line-height:7.0px;font-weight:400;color:#262626;left:274.40px;width:400px;text-align:center;">10</div>
<div class="t" style="top:624.03px;font-size:7.4px;line-height:7.4px;font-weight:400;color:#262626;left:89.10px;">mediaassociates.com</div>
<svg style="left:0;top:0" width="992" height="664" viewBox="0 0 992 664"><path d="M164.80,630.50 L168.80,630.50 L170.80,629.50 L171.80,625.50 L172.80,630.50 L178.80,630.50 L180.40,626.50 L181.80,630.50" fill="none" stroke="#8a8a8a" stroke-width="0.8" stroke-linejoin="round"/></svg>
<div class="r" style="left:155.40px;top:622.40px;width:120px;height:10.2px;display:flex;justify-content:center;"><div style="background:#eef4f3;border-radius:5.1px;height:10.2px;padding:0 4.6px 0 4.8px;display:flex;align-items:center;"><svg style="position:static;display:block;margin-right:3.3px" width="5.2" height="5.4" viewBox="0 0 5.2 5.4"><path d="M2.6 0.5 L2.6 5.2 M0.4 2.6 L2.6 0.5 L4.8 2.6" fill="none" stroke="#2a8d55" stroke-width="0.95" stroke-linecap="round" stroke-linejoin="round"/></svg><span style="font-size:6.5px;line-height:10.2px;font-weight:700;color:#2a8d55;letter-spacing:-0.1px;white-space:nowrap">2K%</span></div></div>
<div class="t" style="top:623.93px;font-size:7.0px;line-height:7.0px;font-weight:400;color:#262626;left:72.40px;width:400px;text-align:center;">5.57K</div>
<div class="t" style="top:623.93px;font-size:7.0px;line-height:7.0px;font-weight:400;color:#262626;left:143.50px;width:400px;text-align:center;">2.15K</div>
<div class="t" style="top:623.93px;font-size:7.0px;line-height:7.0px;font-weight:400;color:#262626;left:210.40px;width:400px;text-align:center;">1</div>
<div class="t" style="top:623.93px;font-size:7.0px;line-height:7.0px;font-weight:400;color:#262626;left:274.40px;width:400px;text-align:center;">8</div>
<svg style="left:0;top:0" width="992" height="664" viewBox="0 0 992 664">
<rect x="71.9" y="474.8" width="12.2" height="12.4" fill="#d71e28"/>
<rect x="71.9" y="487.2" width="12.2" height="0.9" fill="#ffcd41"/>
<path d="M73.6 479.2 L82.4 479.2 M73.6 481.6 L82.4 481.6" stroke="#f6c0c4" stroke-width="0.7"/>
<path d="M72.5 502.6 L84 502.6" stroke="#666" stroke-width="0.8" stroke-dasharray="1.2 0.4"/>
<rect x="71.2" y="516" width="13.4" height="13.8" fill="#e21d26"/>
<path d="M74 519.5 L77 519.5 L77.6 521.6 L80.6 521.6 L82.6 523.4 L80.6 526.6 L78.8 528 L77.8 525.6 L75.2 524 L74.2 522.6 Z" fill="#fff"/>
<rect x="71.3" y="537.5" width="13.6" height="13.3" fill="#0b1145"/>
<g fill="#3c8ce8"><circle cx="75.5" cy="542" r="0.8"/><circle cx="78" cy="542" r="0.8"/><circle cx="80.5" cy="542" r="0.8"/><circle cx="76.5" cy="544.4" r="0.8"/><circle cx="79" cy="544.4" r="0.8"/><circle cx="81.5" cy="544.4" r="0.8"/><circle cx="77.5" cy="546.8" r="0.8"/><circle cx="80" cy="546.8" r="0.8"/></g>
<circle cx="78.1" cy="564.7" r="6.9" fill="#e01e2e"/>
<path d="M76.4 560.4 L79.2 560.4 Q81.6 560.6 81 564.4 Q80.4 569 77.6 569 L74.8 569 Z" fill="#fff"/>
<path d="M77.8 562.6 L78.6 562.6 Q79.4 562.8 79 565 Q78.6 566.8 77.6 566.8 L77 566.8 Z" fill="#e01e2e"/>
<path d="M73.6 582.2 L82.9 586.2 L73.6 590.3" fill="none" stroke="#a100ff" stroke-width="2.3" stroke-linejoin="miter"/>
<circle cx="78" cy="605.2" r="1.1" fill="#999"/>
<path d="M72 607.4 L84.5 607.4" stroke="#bbb" stroke-width="0.7"/>
<rect x="79.6" y="624.5" width="2.7" height="3" fill="#2f6fd6"/>
<path d="M72 627.5 L78.5 627.5" stroke="#999" stroke-width="0.8"/>
</svg>
<div class="r" style="left:60px;top:628.9px;width:451px;height:5px;background:#ffffff;border-radius:0px;"></div>
<div class="r" style="left:60px;top:627.6px;width:451px;height:1.3px;background:#7a7a7a;border-radius:0px;"></div>
<div class="t" style="top:636.43px;font-size:7.0px;line-height:7.0px;font-weight:700;color:#1e1e1e;left:72.20px;">Grand Total</div>
<div class="r" style="left:155.40px;top:633.70px;width:120px;height:10.2px;display:flex;justify-content:center;"><div style="background:#f9eeef;border-radius:5.1px;height:10.2px;padding:0 4.6px 0 4.8px;display:flex;align-items:center;"><svg style="position:static;display:block;margin-right:3.3px" width="5.2" height="5.4" viewBox="0 0 5.2 5.4"><path d="M2.6 0.2 L2.6 4.9 M0.4 2.8 L2.6 4.9 L4.8 2.8" fill="none" stroke="#c22f3e" stroke-width="0.95" stroke-linecap="round" stroke-linejoin="round"/></svg><span style="font-size:6.5px;line-height:10.2px;font-weight:700;color:#c22f3e;letter-spacing:-0.1px;white-space:nowrap">-4%</span></div></div>
<div class="t" style="top:636.53px;font-size:7.0px;line-height:7.0px;font-weight:700;color:#1e1e1e;left:72.40px;width:400px;text-align:center;">714M</div>
<div class="t" style="top:636.53px;font-size:7.0px;line-height:7.0px;font-weight:700;color:#1e1e1e;left:143.50px;width:400px;text-align:center;">6.08M</div>
<div class="t" style="top:636.53px;font-size:7.0px;line-height:7.0px;font-weight:700;color:#1e1e1e;left:210.30px;width:400px;text-align:center;">21.3K</div>
<div class="t" style="top:636.53px;font-size:7.0px;line-height:7.0px;font-weight:700;color:#1e1e1e;left:274.60px;width:400px;text-align:center;">37</div>
<div class="t" style="top:657.49px;font-size:6.5px;line-height:6.5px;font-weight:400;color:#333;left:398.80px;">1 – 10 / 3,462,038</div>
<svg style="left:462.60px;top:657.00px" width="6.60" height="5.20" viewBox="0 0 6.60 5.20"><path d="M6.099999999999966 2.6 L0.5 2.6 M2.6 0.5 L0.5 2.6 L2.6 4.7" fill="none" stroke="#c4c4c4" stroke-width="0.9" stroke-linecap="round" stroke-linejoin="round"/></svg>
<svg style="left:487.30px;top:657.00px" width="6.70" height="5.20" viewBox="0 0 6.70 5.20"><path d="M0.5 2.6 L6.199999999999989 2.6 M4.099999999999989 0.5 L6.199999999999989 2.6 L4.099999999999989 4.7" fill="none" stroke="#111" stroke-width="1.2" stroke-linecap="round" stroke-linejoin="round"/></svg>
<div class="r" style="left:525px;top:428.8px;width:450px;height:240px;background:#ffffff;border-radius:8px;"></div>
<div class="t" style="top:435.82px;font-size:7.8px;line-height:7.8px;font-weight:700;color:#1e1e1e;left:536.30px;">Campaign Activity</div>
<svg style="left:954.10px;top:439.70px" width="9" height="3" viewBox="0 0 9 3"><circle cx="1.2" cy="1.5" r="0.95" fill="#222"/><circle cx="4.4" cy="1.5" r="0.95" fill="#222"/><circle cx="7.6" cy="1.5" r="0.95" fill="#222"/></svg>
<div class="r" style="left:525px;top:451.2px;width:450px;height:19.5px;background:#f3f3f3;border-radius:0px;"></div>
<div class="t" style="top:457.58px;font-size:7.1px;line-height:7.1px;font-weight:400;color:#2a2a2a;left:536.30px;">Campaign</div>
<div class="t" style="top:457.58px;font-size:7.1px;line-height:7.1px;font-weight:400;color:#2a2a2a;left:439.00px;width:400px;text-align:center;">Trend</div>
<div class="t" style="top:457.58px;font-size:7.1px;line-height:7.1px;font-weight:400;color:#2a2a2a;left:479.70px;width:400px;text-align:center;">Δ%</div>
<div class="t" style="top:457.58px;font-size:7.1px;line-height:7.1px;font-weight:400;color:#2a2a2a;left:535.90px;width:400px;text-align:center;">Impressions</div>
<div class="t" style="top:457.58px;font-size:7.1px;line-height:7.1px;font-weight:400;color:#2a2a2a;left:602.20px;width:400px;text-align:center;">Engagements</div>
<svg style="left:827.20px;top:459.6px" width="5" height="4" viewBox="0 0 5 4"><path d="M0.6 0.8 L2.4 2.6 L4.2 0.8" fill="none" stroke="#444" stroke-width="0.8"/></svg>
<div class="t" style="top:457.58px;font-size:7.1px;line-height:7.1px;font-weight:400;color:#2a2a2a;left:674.60px;width:400px;text-align:center;">Form Fills</div>
<div class="t" style="top:457.58px;font-size:7.1px;line-height:7.1px;font-weight:400;color:#2a2a2a;left:739.00px;width:400px;text-align:center;"># of Channels</div>
<div class="t" style="top:477.44px;font-size:7.2px;line-height:7.2px;font-weight:400;color:#262626;left:535.80px;">Other Campaigns</div>
<svg style="left:0;top:0" width="992" height="664" viewBox="0 0 992 664"><path d="M629.00,484.90 L629.60,477.65 L632.00,477.40 L636.00,477.90 L640.00,477.40 L642.00,477.90 L643.00,482.65 L645.00,483.90 L648.60,484.40" fill="none" stroke="#8a8a8a" stroke-width="0.8" stroke-linejoin="round"/></svg>
<div class="r" style="left:619.70px;top:475.80px;width:120px;height:10.2px;display:flex;justify-content:center;"><div style="background:#f9eeef;border-radius:5.1px;height:10.2px;padding:0 4.6px 0 4.8px;display:flex;align-items:center;"><svg style="position:static;display:block;margin-right:3.3px" width="5.2" height="5.4" viewBox="0 0 5.2 5.4"><path d="M2.6 0.2 L2.6 4.9 M0.4 2.8 L2.6 4.9 L4.8 2.8" fill="none" stroke="#c22f3e" stroke-width="0.95" stroke-linecap="round" stroke-linejoin="round"/></svg><span style="font-size:6.5px;line-height:10.2px;font-weight:700;color:#c22f3e;letter-spacing:-0.1px;white-space:nowrap">-18%</span></div></div>
<div class="t" style="top:477.33px;font-size:7.0px;line-height:7.0px;font-weight:400;color:#262626;left:535.90px;width:400px;text-align:center;">11.1M</div>
<div class="t" style="top:477.33px;font-size:7.0px;line-height:7.0px;font-weight:400;color:#262626;left:607.40px;width:400px;text-align:center;">2.48M</div>
<div class="t" style="top:477.33px;font-size:7.0px;line-height:7.0px;font-weight:400;color:#262626;left:674.60px;width:400px;text-align:center;">5.04K</div>
<div class="t" style="top:477.33px;font-size:7.0px;line-height:7.0px;font-weight:400;color:#262626;left:739.00px;width:400px;text-align:center;">32</div>
<div class="t" style="top:496.86px;font-size:7.2px;line-height:7.2px;font-weight:400;color:#262626;left:535.80px;">One to Many</div>
<svg style="left:0;top:0" width="992" height="664" viewBox="0 0 992 664"><path d="M629.00,504.07 L630.60,501.07 L633.00,500.07 L636.00,499.57 L639.00,499.07 L641.00,498.07 L643.40,497.07 L645.40,497.57 L647.40,498.57 L648.60,500.32" fill="none" stroke="#8a8a8a" stroke-width="0.8" stroke-linejoin="round"/></svg>
<div class="r" style="left:619.70px;top:495.22px;width:120px;height:10.2px;display:flex;justify-content:center;"><div style="background:#eef4f3;border-radius:5.1px;height:10.2px;padding:0 4.6px 0 4.8px;display:flex;align-items:center;"><svg style="position:static;display:block;margin-right:3.3px" width="5.2" height="5.4" viewBox="0 0 5.2 5.4"><path d="M2.6 0.5 L2.6 5.2 M0.4 2.6 L2.6 0.5 L4.8 2.6" fill="none" stroke="#2a8d55" stroke-width="0.95" stroke-linecap="round" stroke-linejoin="round"/></svg><span style="font-size:6.5px;line-height:10.2px;font-weight:700;color:#2a8d55;letter-spacing:-0.1px;white-space:nowrap">19%</span></div></div>
<div class="t" style="top:496.75px;font-size:7.0px;line-height:7.0px;font-weight:400;color:#262626;left:535.90px;width:400px;text-align:center;">103M</div>
<div class="t" style="top:496.75px;font-size:7.0px;line-height:7.0px;font-weight:400;color:#262626;left:607.40px;width:400px;text-align:center;">1.58M</div>
<div class="t" style="top:496.75px;font-size:7.0px;line-height:7.0px;font-weight:400;color:#262626;left:674.60px;width:400px;text-align:center;">1.22K</div>
<div class="t" style="top:496.75px;font-size:7.0px;line-height:7.0px;font-weight:400;color:#262626;left:739.00px;width:400px;text-align:center;">11</div>
<div class="t" style="top:516.28px;font-size:7.2px;line-height:7.2px;font-weight:400;color:#262626;left:535.80px;">1:1 ABM</div>
<svg style="left:0;top:0" width="992" height="664" viewBox="0 0 992 664"><path d="M629.00,522.74 L631.00,520.74 L633.00,519.74 L635.00,521.49 L637.00,520.74 L639.00,519.49 L641.00,517.24 L643.00,517.99 L644.60,516.24 L646.60,517.24 L648.60,516.99" fill="none" stroke="#8a8a8a" stroke-width="0.8" stroke-linejoin="round"/></svg>
<div class="r" style="left:619.70px;top:514.64px;width:120px;height:10.2px;display:flex;justify-content:center;"><div style="background:#eef4f3;border-radius:5.1px;height:10.2px;padding:0 4.6px 0 4.8px;display:flex;align-items:center;"><svg style="position:static;display:block;margin-right:3.3px" width="5.2" height="5.4" viewBox="0 0 5.2 5.4"><path d="M2.6 0.5 L2.6 5.2 M0.4 2.6 L2.6 0.5 L4.8 2.6" fill="none" stroke="#2a8d55" stroke-width="0.95" stroke-linecap="round" stroke-linejoin="round"/></svg><span style="font-size:6.5px;line-height:10.2px;font-weight:700;color:#2a8d55;letter-spacing:-0.1px;white-space:nowrap">2%</span></div></div>
<div class="t" style="top:516.17px;font-size:7.0px;line-height:7.0px;font-weight:400;color:#262626;left:535.90px;width:400px;text-align:center;">79.6M</div>
<div class="t" style="top:516.17px;font-size:7.0px;line-height:7.0px;font-weight:400;color:#262626;left:607.40px;width:400px;text-align:center;">331K</div>
<div class="t" style="top:516.17px;font-size:7.0px;line-height:7.0px;font-weight:400;color:#262626;left:674.60px;width:400px;text-align:center;">28</div>
<div class="t" style="top:516.17px;font-size:7.0px;line-height:7.0px;font-weight:400;color:#262626;left:739.00px;width:400px;text-align:center;">2</div>
<div class="t" style="top:535.70px;font-size:7.2px;line-height:7.2px;font-weight:400;color:#262626;left:535.80px;">One to Few</div>
<svg style="left:0;top:0" width="992" height="664" viewBox="0 0 992 664"><path d="M629.00,543.16 L630.60,539.66 L633.00,538.66 L636.00,538.16 L638.60,538.41 L640.60,536.91 L643.00,535.91 L645.60,535.66 L647.60,537.16 L648.60,540.16" fill="none" stroke="#8a8a8a" stroke-width="0.8" stroke-linejoin="round"/></svg>
<div class="r" style="left:619.70px;top:534.06px;width:120px;height:10.2px;display:flex;justify-content:center;"><div style="background:#eef4f3;border-radius:5.1px;height:10.2px;padding:0 4.6px 0 4.8px;display:flex;align-items:center;"><svg style="position:static;display:block;margin-right:3.3px" width="5.2" height="5.4" viewBox="0 0 5.2 5.4"><path d="M2.6 0.5 L2.6 5.2 M0.4 2.6 L2.6 0.5 L4.8 2.6" fill="none" stroke="#2a8d55" stroke-width="0.95" stroke-linecap="round" stroke-linejoin="round"/></svg><span style="font-size:6.5px;line-height:10.2px;font-weight:700;color:#2a8d55;letter-spacing:-0.1px;white-space:nowrap">20%</span></div></div>
<div class="t" style="top:535.59px;font-size:7.0px;line-height:7.0px;font-weight:400;color:#262626;left:535.90px;width:400px;text-align:center;">94.1M</div>
<div class="t" style="top:535.59px;font-size:7.0px;line-height:7.0px;font-weight:400;color:#262626;left:607.40px;width:400px;text-align:center;">304K</div>
<div class="t" style="top:535.59px;font-size:7.0px;line-height:7.0px;font-weight:400;color:#262626;left:674.60px;width:400px;text-align:center;">150</div>
<div class="t" style="top:535.59px;font-size:7.0px;line-height:7.0px;font-weight:400;color:#262626;left:739.00px;width:400px;text-align:center;">8</div>
<div class="t" style="top:555.12px;font-size:7.2px;line-height:7.2px;font-weight:400;color:#262626;left:535.80px;">SEAANZ | Open Internet</div>
<svg style="left:0;top:0" width="992" height="664" viewBox="0 0 992 664"><path d="M629.00,560.33 L629.80,554.83 L630.80,560.83 L631.80,555.58 L633.40,559.08 L634.80,557.08 L637.00,559.33 L639.00,558.83 L643.00,559.08 L645.60,559.58 L648.60,562.33" fill="none" stroke="#8a8a8a" stroke-width="0.8" stroke-linejoin="round"/></svg>
<div class="r" style="left:619.70px;top:553.48px;width:120px;height:10.2px;display:flex;justify-content:center;"><div style="background:#f9eeef;border-radius:5.1px;height:10.2px;padding:0 4.6px 0 4.8px;display:flex;align-items:center;"><svg style="position:static;display:block;margin-right:3.3px" width="5.2" height="5.4" viewBox="0 0 5.2 5.4"><path d="M2.6 0.2 L2.6 4.9 M0.4 2.8 L2.6 4.9 L4.8 2.8" fill="none" stroke="#c22f3e" stroke-width="0.95" stroke-linecap="round" stroke-linejoin="round"/></svg><span style="font-size:6.5px;line-height:10.2px;font-weight:700;color:#c22f3e;letter-spacing:-0.1px;white-space:nowrap">-26%</span></div></div>
<div class="t" style="top:555.01px;font-size:7.0px;line-height:7.0px;font-weight:400;color:#262626;left:535.90px;width:400px;text-align:center;">33.3M</div>
<div class="t" style="top:555.01px;font-size:7.0px;line-height:7.0px;font-weight:400;color:#262626;left:607.40px;width:400px;text-align:center;">130K</div>
<div class="t" style="top:555.01px;font-size:7.0px;line-height:7.0px;font-weight:400;color:#262626;left:674.60px;width:400px;text-align:center;">6.05K</div>
<div class="t" style="top:555.01px;font-size:7.0px;line-height:7.0px;font-weight:400;color:#262626;left:739.00px;width:400px;text-align:center;">5</div>
<div class="t" style="top:574.54px;font-size:7.2px;line-height:7.2px;font-weight:400;color:#262626;left:535.80px;">Corporate Remarketing</div>
<svg style="left:0;top:0" width="992" height="664" viewBox="0 0 992 664"><path d="M629.00,579.25 L630.80,581.75 L632.00,577.00 L634.40,577.00 L636.40,575.50 L639.00,576.00 L641.60,575.00 L644.00,574.75 L646.60,575.75 L648.60,577.25" fill="none" stroke="#8a8a8a" stroke-width="0.8" stroke-linejoin="round"/></svg>
<div class="r" style="left:619.70px;top:572.90px;width:120px;height:10.2px;display:flex;justify-content:center;"><div style="background:#f9eeef;border-radius:5.1px;height:10.2px;padding:0 4.6px 0 4.8px;display:flex;align-items:center;"><svg style="position:static;display:block;margin-right:3.3px" width="5.2" height="5.4" viewBox="0 0 5.2 5.4"><path d="M2.6 0.2 L2.6 4.9 M0.4 2.8 L2.6 4.9 L4.8 2.8" fill="none" stroke="#c22f3e" stroke-width="0.95" stroke-linecap="round" stroke-linejoin="round"/></svg><span style="font-size:6.5px;line-height:10.2px;font-weight:700;color:#c22f3e;letter-spacing:-0.1px;white-space:nowrap">-34%</span></div></div>
<div class="t" style="top:574.43px;font-size:7.0px;line-height:7.0px;font-weight:400;color:#262626;left:535.90px;width:400px;text-align:center;">7.34M</div>
<div class="t" style="top:574.43px;font-size:7.0px;line-height:7.0px;font-weight:400;color:#262626;left:607.40px;width:400px;text-align:center;">112K</div>
<div class="t" style="top:574.43px;font-size:7.0px;line-height:7.0px;font-weight:400;color:#262626;left:674.60px;width:400px;text-align:center;">0</div>
<div class="t" style="top:574.43px;font-size:7.0px;line-height:7.0px;font-weight:400;color:#262626;left:739.00px;width:400px;text-align:center;">6</div>
<div class="t" style="top:593.96px;font-size:7.2px;line-height:7.2px;font-weight:400;color:#262626;left:535.80px;">1:Few ABM</div>
<svg style="left:0;top:0" width="992" height="664" viewBox="0 0 992 664"><path d="M629.00,601.42 L635.00,601.42 L641.00,601.17 L645.40,600.67 L646.20,596.67 L647.40,593.92 L648.60,595.67" fill="none" stroke="#8a8a8a" stroke-width="0.8" stroke-linejoin="round"/></svg>
<div class="r" style="left:619.70px;top:592.32px;width:120px;height:10.2px;display:flex;justify-content:center;"><div style="background:#eef4f3;border-radius:5.1px;height:10.2px;padding:0 4.6px 0 4.8px;display:flex;align-items:center;"><svg style="position:static;display:block;margin-right:3.3px" width="5.2" height="5.4" viewBox="0 0 5.2 5.4"><path d="M2.6 0.5 L2.6 5.2 M0.4 2.6 L2.6 0.5 L4.8 2.6" fill="none" stroke="#2a8d55" stroke-width="0.95" stroke-linecap="round" stroke-linejoin="round"/></svg><span style="font-size:6.5px;line-height:10.2px;font-weight:700;color:#2a8d55;letter-spacing:-0.1px;white-space:nowrap">2K%</span></div></div>
<div class="t" style="top:593.85px;font-size:7.0px;line-height:7.0px;font-weight:400;color:#262626;left:535.90px;width:400px;text-align:center;">19.2M</div>
<div class="t" style="top:593.85px;font-size:7.0px;line-height:7.0px;font-weight:400;color:#262626;left:607.40px;width:400px;text-align:center;">99.4K</div>
<div class="t" style="top:593.85px;font-size:7.0px;line-height:7.0px;font-weight:400;color:#262626;left:674.60px;width:400px;text-align:center;">308</div>
<div class="t" style="top:593.85px;font-size:7.0px;line-height:7.0px;font-weight:400;color:#262626;left:739.00px;width:400px;text-align:center;">4</div>
<div class="t" style="top:613.38px;font-size:7.2px;line-height:7.2px;font-weight:400;color:#262626;left:535.80px;">Product Release 1</div>
<svg style="left:0;top:0" width="992" height="664" viewBox="0 0 992 664"><path d="M629.00,613.09 L630.60,613.84 L633.00,616.84 L635.60,620.34 L638.00,620.84 L642.00,620.84 L645.00,620.09 L646.60,616.09 L648.60,613.09" fill="none" stroke="#8a8a8a" stroke-width="0.8" stroke-linejoin="round"/></svg>
<div class="r" style="left:619.70px;top:611.74px;width:120px;height:10.2px;display:flex;justify-content:center;"><div style="background:#eef4f3;border-radius:5.1px;height:10.2px;padding:0 4.6px 0 4.8px;display:flex;align-items:center;"><svg style="position:static;display:block;margin-right:3.3px" width="5.2" height="5.4" viewBox="0 0 5.2 5.4"><path d="M2.6 0.5 L2.6 5.2 M0.4 2.6 L2.6 0.5 L4.8 2.6" fill="none" stroke="#2a8d55" stroke-width="0.95" stroke-linecap="round" stroke-linejoin="round"/></svg><span style="font-size:6.5px;line-height:10.2px;font-weight:700;color:#2a8d55;letter-spacing:-0.1px;white-space:nowrap">19%</span></div></div>
<div class="t" style="top:613.27px;font-size:7.0px;line-height:7.0px;font-weight:400;color:#262626;left:535.90px;width:400px;text-align:center;">1.87M</div>
<div class="t" style="top:613.27px;font-size:7.0px;line-height:7.0px;font-weight:400;color:#262626;left:607.40px;width:400px;text-align:center;">79.9K</div>
<div class="t" style="top:613.27px;font-size:7.0px;line-height:7.0px;font-weight:400;color:#262626;left:674.60px;width:400px;text-align:center;">54</div>
<div class="t" style="top:613.27px;font-size:7.0px;line-height:7.0px;font-weight:400;color:#262626;left:739.00px;width:400px;text-align:center;">1</div>
<div class="r" style="left:525px;top:627.6px;width:450px;height:1.3px;background:#7a7a7a;border-radius:0px;"></div>
<div class="t" style="top:636.43px;font-size:7.0px;line-height:7.0px;font-weight:700;color:#1e1e1e;left:536.20px;">Grand Total</div>
<div class="r" style="left:619.50px;top:633.90px;width:120px;height:10.2px;display:flex;justify-content:center;"><div style="background:#f9eeef;border-radius:5.1px;height:10.2px;padding:0 4.6px 0 4.8px;display:flex;align-items:center;"><svg style="position:static;display:block;margin-right:3.3px" width="5.2" height="5.4" viewBox="0 0 5.2 5.4"><path d="M2.6 0.2 L2.6 4.9 M0.4 2.8 L2.6 4.9 L4.8 2.8" fill="none" stroke="#c22f3e" stroke-width="0.95" stroke-linecap="round" stroke-linejoin="round"/></svg><span style="font-size:6.5px;line-height:10.2px;font-weight:700;color:#c22f3e;letter-spacing:-0.1px;white-space:nowrap">-4%</span></div></div>
<div class="t" style="top:636.53px;font-size:7.0px;line-height:7.0px;font-weight:700;color:#1e1e1e;left:535.90px;width:400px;text-align:center;">714M</div>
<div class="t" style="top:636.53px;font-size:7.0px;line-height:7.0px;font-weight:700;color:#1e1e1e;left:607.40px;width:400px;text-align:center;">6.08M</div>
<div class="t" style="top:636.53px;font-size:7.0px;line-height:7.0px;font-weight:700;color:#1e1e1e;left:674.60px;width:400px;text-align:center;">21.3K</div>
<div class="t" style="top:636.53px;font-size:7.0px;line-height:7.0px;font-weight:700;color:#1e1e1e;left:739.00px;width:400px;text-align:center;">37</div>
<div class="t" style="top:657.74px;font-size:6.4px;line-height:6.4px;font-weight:400;color:#333;left:882.60px;">1 – 10 / 347</div>
<svg style="left:927.30px;top:657.20px" width="6.40" height="5.20" viewBox="0 0 6.40 5.20"><path d="M5.900000000000091 2.6 L0.5 2.6 M2.6 0.5 L0.5 2.6 L2.6 4.7" fill="none" stroke="#c4c4c4" stroke-width="0.9" stroke-linecap="round" stroke-linejoin="round"/></svg>
<svg style="left:951.60px;top:657.20px" width="6.90" height="5.20" viewBox="0 0 6.90 5.20"><path d="M0.5 2.6 L6.399999999999977 2.6 M4.299999999999978 0.5 L6.399999999999977 2.6 L4.299999999999978 4.7" fill="none" stroke="#111" stroke-width="1.2" stroke-linecap="round" stroke-linejoin="round"/></svg>
</body></html>
